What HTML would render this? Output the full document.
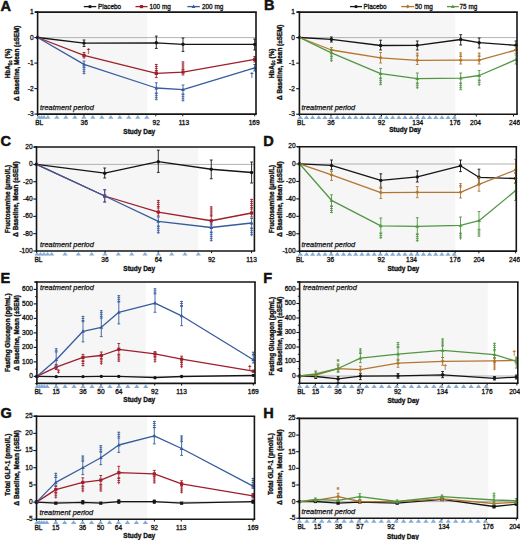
<!DOCTYPE html>
<html><head><meta charset="utf-8"><style>
html,body{margin:0;padding:0;background:#fff;}
body{width:520px;height:540px;overflow:hidden;}
svg{display:block;font-family:"Liberation Sans",sans-serif;}
</style></head><body>
<svg width="520" height="540" viewBox="0 0 520 540">
<rect width="520" height="540" fill="#fff"/>
<rect x="37.60" y="12.10" width="109.60" height="102.00" fill="#f6f6f6"/>
<line x1="37.60" y1="37.60" x2="256.00" y2="37.60" stroke="#a0a0a0" stroke-width="0.8" />
<text x="40.00" y="110.10" font-size="7.4" text-anchor="start" font-weight="normal" font-style="italic" fill="#111" stroke="#111" stroke-width="0.25" >treatment period</text>
<path d="M37.60,37.50 L84.00,43.10 L156.30,42.80 L183.00,44.30 L254.70,44.40" fill="none" stroke="#151515" stroke-width="1.3" stroke-linejoin="round"/>
<path d="M37.60,37.50 L84.00,55.40 L156.30,73.40 L183.00,72.10 L254.70,59.40" fill="none" stroke="#9e1f2b" stroke-width="1.3" stroke-linejoin="round"/>
<path d="M37.60,37.50 L84.00,64.40 L156.30,88.00 L183.00,89.70 L254.70,67.80" fill="none" stroke="#365c9e" stroke-width="1.3" stroke-linejoin="round"/>
<circle cx="37.60" cy="37.50" r="1.7" fill="#151515"/>
<line x1="84.00" y1="40.00" x2="84.00" y2="46.50" stroke="#151515" stroke-width="0.9" />
<line x1="82.60" y1="40.00" x2="85.40" y2="40.00" stroke="#151515" stroke-width="0.9" />
<line x1="82.60" y1="46.50" x2="85.40" y2="46.50" stroke="#151515" stroke-width="0.9" />
<circle cx="84.00" cy="43.10" r="1.7" fill="#151515"/>
<line x1="156.30" y1="36.10" x2="156.30" y2="48.40" stroke="#151515" stroke-width="0.9" />
<line x1="154.90" y1="36.10" x2="157.70" y2="36.10" stroke="#151515" stroke-width="0.9" />
<line x1="154.90" y1="48.40" x2="157.70" y2="48.40" stroke="#151515" stroke-width="0.9" />
<circle cx="156.30" cy="42.80" r="1.7" fill="#151515"/>
<line x1="183.00" y1="38.00" x2="183.00" y2="51.40" stroke="#151515" stroke-width="0.9" />
<line x1="181.60" y1="38.00" x2="184.40" y2="38.00" stroke="#151515" stroke-width="0.9" />
<line x1="181.60" y1="51.40" x2="184.40" y2="51.40" stroke="#151515" stroke-width="0.9" />
<circle cx="183.00" cy="44.30" r="1.7" fill="#151515"/>
<line x1="254.70" y1="39.00" x2="254.70" y2="50.00" stroke="#151515" stroke-width="0.9" />
<line x1="253.30" y1="39.00" x2="256.10" y2="39.00" stroke="#151515" stroke-width="0.9" />
<line x1="253.30" y1="50.00" x2="256.10" y2="50.00" stroke="#151515" stroke-width="0.9" />
<circle cx="254.70" cy="44.40" r="1.7" fill="#151515"/>
<rect x="36.00" y="35.90" width="3.2" height="3.2" fill="#9e1f2b"/>
<line x1="84.00" y1="52.50" x2="84.00" y2="58.00" stroke="#9e1f2b" stroke-width="0.9" />
<line x1="82.60" y1="52.50" x2="85.40" y2="52.50" stroke="#9e1f2b" stroke-width="0.9" />
<line x1="82.60" y1="58.00" x2="85.40" y2="58.00" stroke="#9e1f2b" stroke-width="0.9" />
<text x="88.50" y="53.00" font-size="6.3" text-anchor="middle" font-weight="bold" font-style="normal" fill="#9e1f2b" stroke="#9e1f2b" stroke-width="0.2" >†</text>
<rect x="82.40" y="53.80" width="3.2" height="3.2" fill="#9e1f2b"/>
<line x1="156.30" y1="71.00" x2="156.30" y2="77.60" stroke="#9e1f2b" stroke-width="0.9" />
<line x1="154.90" y1="71.00" x2="157.70" y2="71.00" stroke="#9e1f2b" stroke-width="0.9" />
<line x1="154.90" y1="77.60" x2="157.70" y2="77.60" stroke="#9e1f2b" stroke-width="0.9" />
<line x1="156.30" y1="63.80" x2="156.30" y2="71.00" stroke="#9e1f2b" stroke-width="0.9" />
<line x1="154.90" y1="64.50" x2="157.70" y2="64.50" stroke="#9e1f2b" stroke-width="0.9" />
<line x1="154.90" y1="66.50" x2="157.70" y2="66.50" stroke="#9e1f2b" stroke-width="0.9" />
<line x1="154.90" y1="68.50" x2="157.70" y2="68.50" stroke="#9e1f2b" stroke-width="0.9" />
<line x1="154.90" y1="70.50" x2="157.70" y2="70.50" stroke="#9e1f2b" stroke-width="0.9" />
<rect x="154.70" y="71.80" width="3.2" height="3.2" fill="#9e1f2b"/>
<line x1="183.00" y1="69.50" x2="183.00" y2="75.00" stroke="#9e1f2b" stroke-width="0.9" />
<line x1="181.60" y1="69.50" x2="184.40" y2="69.50" stroke="#9e1f2b" stroke-width="0.9" />
<line x1="181.60" y1="75.00" x2="184.40" y2="75.00" stroke="#9e1f2b" stroke-width="0.9" />
<line x1="183.00" y1="61.30" x2="183.00" y2="69.50" stroke="#9e1f2b" stroke-width="0.9" />
<line x1="181.60" y1="62.00" x2="184.40" y2="62.00" stroke="#9e1f2b" stroke-width="0.9" />
<line x1="181.60" y1="64.00" x2="184.40" y2="64.00" stroke="#9e1f2b" stroke-width="0.9" />
<line x1="181.60" y1="66.00" x2="184.40" y2="66.00" stroke="#9e1f2b" stroke-width="0.9" />
<line x1="181.60" y1="68.00" x2="184.40" y2="68.00" stroke="#9e1f2b" stroke-width="0.9" />
<rect x="181.40" y="70.50" width="3.2" height="3.2" fill="#9e1f2b"/>
<line x1="254.70" y1="56.50" x2="254.70" y2="62.00" stroke="#9e1f2b" stroke-width="0.9" />
<line x1="253.30" y1="56.50" x2="256.10" y2="56.50" stroke="#9e1f2b" stroke-width="0.9" />
<line x1="253.30" y1="62.00" x2="256.10" y2="62.00" stroke="#9e1f2b" stroke-width="0.9" />
<rect x="253.10" y="57.80" width="3.2" height="3.2" fill="#9e1f2b"/>
<path d="M37.60,35.50 L39.50,38.90 L35.70,38.90Z" fill="#365c9e"/>
<line x1="84.00" y1="61.00" x2="84.00" y2="67.00" stroke="#365c9e" stroke-width="0.9" />
<line x1="82.60" y1="61.00" x2="85.40" y2="61.00" stroke="#365c9e" stroke-width="0.9" />
<line x1="82.60" y1="67.00" x2="85.40" y2="67.00" stroke="#365c9e" stroke-width="0.9" />
<line x1="84.00" y1="67.00" x2="84.00" y2="74.00" stroke="#365c9e" stroke-width="0.9" />
<line x1="82.60" y1="67.70" x2="85.40" y2="67.70" stroke="#365c9e" stroke-width="0.9" />
<line x1="82.60" y1="69.70" x2="85.40" y2="69.70" stroke="#365c9e" stroke-width="0.9" />
<line x1="82.60" y1="71.70" x2="85.40" y2="71.70" stroke="#365c9e" stroke-width="0.9" />
<line x1="82.60" y1="73.70" x2="85.40" y2="73.70" stroke="#365c9e" stroke-width="0.9" />
<path d="M84.00,62.40 L85.90,65.80 L82.10,65.80Z" fill="#365c9e"/>
<line x1="156.30" y1="82.80" x2="156.30" y2="93.00" stroke="#365c9e" stroke-width="0.9" />
<line x1="154.90" y1="82.80" x2="157.70" y2="82.80" stroke="#365c9e" stroke-width="0.9" />
<line x1="154.90" y1="93.00" x2="157.70" y2="93.00" stroke="#365c9e" stroke-width="0.9" />
<line x1="156.30" y1="93.00" x2="156.30" y2="99.80" stroke="#365c9e" stroke-width="0.9" />
<line x1="154.90" y1="93.70" x2="157.70" y2="93.70" stroke="#365c9e" stroke-width="0.9" />
<line x1="154.90" y1="95.70" x2="157.70" y2="95.70" stroke="#365c9e" stroke-width="0.9" />
<line x1="154.90" y1="97.70" x2="157.70" y2="97.70" stroke="#365c9e" stroke-width="0.9" />
<line x1="154.90" y1="99.70" x2="157.70" y2="99.70" stroke="#365c9e" stroke-width="0.9" />
<path d="M156.30,86.00 L158.20,89.40 L154.40,89.40Z" fill="#365c9e"/>
<line x1="183.00" y1="85.00" x2="183.00" y2="94.00" stroke="#365c9e" stroke-width="0.9" />
<line x1="181.60" y1="85.00" x2="184.40" y2="85.00" stroke="#365c9e" stroke-width="0.9" />
<line x1="181.60" y1="94.00" x2="184.40" y2="94.00" stroke="#365c9e" stroke-width="0.9" />
<line x1="183.00" y1="94.00" x2="183.00" y2="101.30" stroke="#365c9e" stroke-width="0.9" />
<line x1="181.60" y1="94.70" x2="184.40" y2="94.70" stroke="#365c9e" stroke-width="0.9" />
<line x1="181.60" y1="96.70" x2="184.40" y2="96.70" stroke="#365c9e" stroke-width="0.9" />
<line x1="181.60" y1="98.70" x2="184.40" y2="98.70" stroke="#365c9e" stroke-width="0.9" />
<line x1="181.60" y1="100.70" x2="184.40" y2="100.70" stroke="#365c9e" stroke-width="0.9" />
<path d="M183.00,87.70 L184.90,91.10 L181.10,91.10Z" fill="#365c9e"/>
<line x1="254.70" y1="64.50" x2="254.70" y2="71.00" stroke="#365c9e" stroke-width="0.9" />
<line x1="253.30" y1="64.50" x2="256.10" y2="64.50" stroke="#365c9e" stroke-width="0.9" />
<line x1="253.30" y1="71.00" x2="256.10" y2="71.00" stroke="#365c9e" stroke-width="0.9" />
<text x="251.70" y="77.00" font-size="6.3" text-anchor="middle" font-weight="bold" font-style="normal" fill="#365c9e" stroke="#365c9e" stroke-width="0.2" >†</text>
<path d="M254.70,65.80 L256.60,69.20 L252.80,69.20Z" fill="#365c9e"/>
<line x1="35.00" y1="12.10" x2="256.80" y2="12.10" stroke="#151515" stroke-width="1.6" />
<line x1="256.00" y1="12.10" x2="256.00" y2="114.10" stroke="#151515" stroke-width="1.6" />
<line x1="37.60" y1="11.30" x2="37.60" y2="114.90" stroke="#151515" stroke-width="1.6" />
<line x1="36.80" y1="114.10" x2="256.80" y2="114.10" stroke="#151515" stroke-width="1.6" />
<line x1="34.40" y1="12.10" x2="37.60" y2="12.10" stroke="#151515" stroke-width="1.1" />
<text x="33.70" y="14.00" font-size="6.6" text-anchor="end" font-weight="normal" font-style="normal" fill="#111" stroke="#111" stroke-width="0.3" >1</text>
<line x1="34.40" y1="37.60" x2="37.60" y2="37.60" stroke="#151515" stroke-width="1.1" />
<text x="33.70" y="39.50" font-size="6.6" text-anchor="end" font-weight="normal" font-style="normal" fill="#111" stroke="#111" stroke-width="0.3" >0</text>
<line x1="34.40" y1="63.10" x2="37.60" y2="63.10" stroke="#151515" stroke-width="1.1" />
<text x="33.70" y="65.00" font-size="6.6" text-anchor="end" font-weight="normal" font-style="normal" fill="#111" stroke="#111" stroke-width="0.3" >-1</text>
<line x1="34.40" y1="88.60" x2="37.60" y2="88.60" stroke="#151515" stroke-width="1.1" />
<text x="33.70" y="90.50" font-size="6.6" text-anchor="end" font-weight="normal" font-style="normal" fill="#111" stroke="#111" stroke-width="0.3" >-2</text>
<line x1="34.40" y1="114.10" x2="37.60" y2="114.10" stroke="#151515" stroke-width="1.1" />
<text x="33.70" y="116.00" font-size="6.6" text-anchor="end" font-weight="normal" font-style="normal" fill="#111" stroke="#111" stroke-width="0.3" >-3</text>
<line x1="37.60" y1="114.10" x2="37.60" y2="116.30" stroke="#151515" stroke-width="1.0" />
<text x="39.20" y="125.00" font-size="6.6" text-anchor="middle" font-weight="normal" font-style="normal" fill="#111" stroke="#111" stroke-width="0.3" >BL</text>
<line x1="83.85" y1="114.10" x2="83.85" y2="116.30" stroke="#151515" stroke-width="1.0" />
<text x="84.20" y="125.00" font-size="6.6" text-anchor="middle" font-weight="normal" font-style="normal" fill="#111" stroke="#111" stroke-width="0.3" >36</text>
<line x1="155.78" y1="114.10" x2="155.78" y2="116.30" stroke="#151515" stroke-width="1.0" />
<text x="156.20" y="125.00" font-size="6.6" text-anchor="middle" font-weight="normal" font-style="normal" fill="#111" stroke="#111" stroke-width="0.3" >92</text>
<line x1="182.76" y1="114.10" x2="182.76" y2="116.30" stroke="#151515" stroke-width="1.0" />
<text x="183.90" y="125.00" font-size="6.6" text-anchor="middle" font-weight="normal" font-style="normal" fill="#111" stroke="#111" stroke-width="0.3" >113</text>
<line x1="254.70" y1="114.10" x2="254.70" y2="116.30" stroke="#151515" stroke-width="1.0" />
<text x="254.20" y="125.00" font-size="6.6" text-anchor="middle" font-weight="normal" font-style="normal" fill="#111" stroke="#111" stroke-width="0.3" >169</text>
<path d="M38.88,115.00 L41.58,118.70 L36.18,118.70Z" fill="#86acd6"/>
<path d="M41.45,115.00 L44.15,118.70 L38.75,118.70Z" fill="#86acd6"/>
<path d="M44.02,115.00 L46.72,118.70 L41.32,118.70Z" fill="#86acd6"/>
<path d="M47.88,115.00 L50.58,118.70 L45.18,118.70Z" fill="#86acd6"/>
<path d="M56.87,115.00 L59.57,118.70 L54.17,118.70Z" fill="#86acd6"/>
<path d="M65.86,115.00 L68.56,118.70 L63.16,118.70Z" fill="#86acd6"/>
<path d="M74.85,115.00 L77.55,118.70 L72.15,118.70Z" fill="#86acd6"/>
<path d="M83.85,115.00 L86.55,118.70 L81.15,118.70Z" fill="#86acd6"/>
<path d="M92.84,115.00 L95.54,118.70 L90.14,118.70Z" fill="#86acd6"/>
<path d="M101.83,115.00 L104.53,118.70 L99.13,118.70Z" fill="#86acd6"/>
<path d="M110.82,115.00 L113.52,118.70 L108.12,118.70Z" fill="#86acd6"/>
<path d="M119.81,115.00 L122.51,118.70 L117.11,118.70Z" fill="#86acd6"/>
<path d="M128.81,115.00 L131.51,118.70 L126.11,118.70Z" fill="#86acd6"/>
<path d="M137.80,115.00 L140.50,118.70 L135.10,118.70Z" fill="#86acd6"/>
<path d="M146.79,115.00 L149.49,118.70 L144.09,118.70Z" fill="#86acd6"/>
<text x="139.25" y="133.80" font-size="6.5" text-anchor="middle" font-weight="bold" font-style="normal" fill="#111" stroke="#111" stroke-width="0.3" >Study Day</text>
<text transform="translate(10.10,63.40) rotate(-90)" font-size="6.35" font-weight="bold" text-anchor="middle" fill="#111" stroke="#111" stroke-width="0.35" stroke-linejoin="round">HbA<tspan font-size="4.5" dy="1.5">1c</tspan><tspan dy="-1.5"> (%)</tspan></text>
<text transform="translate(18.90,63.20) rotate(-90)" font-size="6.35" font-weight="bold" text-anchor="middle" fill="#111" stroke="#111" stroke-width="0.35" stroke-linejoin="round">Δ Baseline, Mean (±SEM)</text>
<text transform="translate(0.50,10.70) scale(0.94,1)" font-size="15.5" font-weight="bold" fill="#111" stroke="#111" stroke-width="0.5">A</text>
<rect x="299.40" y="12.10" width="155.90" height="102.20" fill="#f6f6f6"/>
<line x1="299.40" y1="37.60" x2="517.00" y2="37.60" stroke="#a0a0a0" stroke-width="0.8" />
<text x="301.40" y="110.40" font-size="7.4" text-anchor="start" font-weight="normal" font-style="italic" fill="#111" stroke="#111" stroke-width="0.25" >treatment period</text>
<path d="M299.40,37.50 L331.40,39.40 L380.60,45.50 L417.30,45.30 L460.70,39.50 L479.20,42.70 L516.00,45.30" fill="none" stroke="#151515" stroke-width="1.3" stroke-linejoin="round"/>
<path d="M299.40,37.50 L331.40,50.00 L380.60,57.80 L417.30,60.30 L460.70,60.20 L479.20,60.20 L516.00,50.00" fill="none" stroke="#b37630" stroke-width="1.3" stroke-linejoin="round"/>
<path d="M299.40,37.50 L331.40,52.90 L380.60,73.60 L417.30,78.60 L460.70,78.10 L479.20,75.50 L516.00,59.60" fill="none" stroke="#519743" stroke-width="1.3" stroke-linejoin="round"/>
<circle cx="299.40" cy="37.50" r="1.7" fill="#151515"/>
<line x1="331.40" y1="37.00" x2="331.40" y2="42.00" stroke="#151515" stroke-width="0.9" />
<line x1="330.00" y1="37.00" x2="332.80" y2="37.00" stroke="#151515" stroke-width="0.9" />
<line x1="330.00" y1="42.00" x2="332.80" y2="42.00" stroke="#151515" stroke-width="0.9" />
<circle cx="331.40" cy="39.40" r="1.7" fill="#151515"/>
<line x1="380.60" y1="40.20" x2="380.60" y2="50.00" stroke="#151515" stroke-width="0.9" />
<line x1="379.20" y1="40.20" x2="382.00" y2="40.20" stroke="#151515" stroke-width="0.9" />
<line x1="379.20" y1="50.00" x2="382.00" y2="50.00" stroke="#151515" stroke-width="0.9" />
<circle cx="380.60" cy="45.50" r="1.7" fill="#151515"/>
<line x1="417.30" y1="41.00" x2="417.30" y2="50.00" stroke="#151515" stroke-width="0.9" />
<line x1="415.90" y1="41.00" x2="418.70" y2="41.00" stroke="#151515" stroke-width="0.9" />
<line x1="415.90" y1="50.00" x2="418.70" y2="50.00" stroke="#151515" stroke-width="0.9" />
<circle cx="417.30" cy="45.30" r="1.7" fill="#151515"/>
<line x1="460.70" y1="34.70" x2="460.70" y2="45.00" stroke="#151515" stroke-width="0.9" />
<line x1="459.30" y1="34.70" x2="462.10" y2="34.70" stroke="#151515" stroke-width="0.9" />
<line x1="459.30" y1="45.00" x2="462.10" y2="45.00" stroke="#151515" stroke-width="0.9" />
<circle cx="460.70" cy="39.50" r="1.7" fill="#151515"/>
<line x1="479.20" y1="38.00" x2="479.20" y2="48.00" stroke="#151515" stroke-width="0.9" />
<line x1="477.80" y1="38.00" x2="480.60" y2="38.00" stroke="#151515" stroke-width="0.9" />
<line x1="477.80" y1="48.00" x2="480.60" y2="48.00" stroke="#151515" stroke-width="0.9" />
<circle cx="479.20" cy="42.70" r="1.7" fill="#151515"/>
<line x1="516.00" y1="41.00" x2="516.00" y2="49.50" stroke="#151515" stroke-width="0.9" />
<line x1="514.60" y1="41.00" x2="517.40" y2="41.00" stroke="#151515" stroke-width="0.9" />
<line x1="514.60" y1="49.50" x2="517.40" y2="49.50" stroke="#151515" stroke-width="0.9" />
<circle cx="516.00" cy="45.30" r="1.7" fill="#151515"/>
<path d="M299.40,35.50 L301.40,37.50 L299.40,39.50 L297.40,37.50Z" fill="#b37630"/>
<line x1="331.40" y1="47.50" x2="331.40" y2="52.50" stroke="#b37630" stroke-width="0.9" />
<line x1="330.00" y1="47.50" x2="332.80" y2="47.50" stroke="#b37630" stroke-width="0.9" />
<line x1="330.00" y1="52.50" x2="332.80" y2="52.50" stroke="#b37630" stroke-width="0.9" />
<path d="M331.40,48.00 L333.40,50.00 L331.40,52.00 L329.40,50.00Z" fill="#b37630"/>
<line x1="380.60" y1="52.50" x2="380.60" y2="63.00" stroke="#b37630" stroke-width="0.9" />
<line x1="379.20" y1="52.50" x2="382.00" y2="52.50" stroke="#b37630" stroke-width="0.9" />
<line x1="379.20" y1="63.00" x2="382.00" y2="63.00" stroke="#b37630" stroke-width="0.9" />
<path d="M380.60,55.80 L382.60,57.80 L380.60,59.80 L378.60,57.80Z" fill="#b37630"/>
<line x1="417.30" y1="56.00" x2="417.30" y2="64.50" stroke="#b37630" stroke-width="0.9" />
<line x1="415.90" y1="56.00" x2="418.70" y2="56.00" stroke="#b37630" stroke-width="0.9" />
<line x1="415.90" y1="64.50" x2="418.70" y2="64.50" stroke="#b37630" stroke-width="0.9" />
<line x1="417.30" y1="52.50" x2="417.30" y2="56.00" stroke="#b37630" stroke-width="0.9" />
<line x1="415.90" y1="53.20" x2="418.70" y2="53.20" stroke="#b37630" stroke-width="0.9" />
<line x1="415.90" y1="55.20" x2="418.70" y2="55.20" stroke="#b37630" stroke-width="0.9" />
<path d="M417.30,58.30 L419.30,60.30 L417.30,62.30 L415.30,60.30Z" fill="#b37630"/>
<line x1="460.70" y1="56.50" x2="460.70" y2="64.00" stroke="#b37630" stroke-width="0.9" />
<line x1="459.30" y1="56.50" x2="462.10" y2="56.50" stroke="#b37630" stroke-width="0.9" />
<line x1="459.30" y1="64.00" x2="462.10" y2="64.00" stroke="#b37630" stroke-width="0.9" />
<line x1="460.70" y1="52.20" x2="460.70" y2="56.50" stroke="#b37630" stroke-width="0.9" />
<line x1="459.30" y1="52.90" x2="462.10" y2="52.90" stroke="#b37630" stroke-width="0.9" />
<line x1="459.30" y1="54.90" x2="462.10" y2="54.90" stroke="#b37630" stroke-width="0.9" />
<path d="M460.70,58.20 L462.70,60.20 L460.70,62.20 L458.70,60.20Z" fill="#b37630"/>
<line x1="479.20" y1="56.50" x2="479.20" y2="64.00" stroke="#b37630" stroke-width="0.9" />
<line x1="477.80" y1="56.50" x2="480.60" y2="56.50" stroke="#b37630" stroke-width="0.9" />
<line x1="477.80" y1="64.00" x2="480.60" y2="64.00" stroke="#b37630" stroke-width="0.9" />
<line x1="479.20" y1="52.50" x2="479.20" y2="56.50" stroke="#b37630" stroke-width="0.9" />
<line x1="477.80" y1="53.20" x2="480.60" y2="53.20" stroke="#b37630" stroke-width="0.9" />
<line x1="477.80" y1="55.20" x2="480.60" y2="55.20" stroke="#b37630" stroke-width="0.9" />
<path d="M479.20,58.20 L481.20,60.20 L479.20,62.20 L477.20,60.20Z" fill="#b37630"/>
<line x1="516.00" y1="46.50" x2="516.00" y2="53.50" stroke="#b37630" stroke-width="0.9" />
<line x1="514.60" y1="46.50" x2="517.40" y2="46.50" stroke="#b37630" stroke-width="0.9" />
<line x1="514.60" y1="53.50" x2="517.40" y2="53.50" stroke="#b37630" stroke-width="0.9" />
<path d="M516.00,48.00 L518.00,50.00 L516.00,52.00 L514.00,50.00Z" fill="#b37630"/>
<path d="M299.40,35.50 L301.30,38.90 L297.50,38.90Z" fill="#519743"/>
<line x1="331.40" y1="50.00" x2="331.40" y2="56.00" stroke="#519743" stroke-width="0.9" />
<line x1="330.00" y1="50.00" x2="332.80" y2="50.00" stroke="#519743" stroke-width="0.9" />
<line x1="330.00" y1="56.00" x2="332.80" y2="56.00" stroke="#519743" stroke-width="0.9" />
<line x1="331.40" y1="56.00" x2="331.40" y2="62.00" stroke="#519743" stroke-width="0.9" />
<line x1="330.00" y1="56.70" x2="332.80" y2="56.70" stroke="#519743" stroke-width="0.9" />
<line x1="330.00" y1="58.70" x2="332.80" y2="58.70" stroke="#519743" stroke-width="0.9" />
<line x1="330.00" y1="60.70" x2="332.80" y2="60.70" stroke="#519743" stroke-width="0.9" />
<path d="M331.40,50.90 L333.30,54.30 L329.50,54.30Z" fill="#519743"/>
<line x1="380.60" y1="68.50" x2="380.60" y2="78.00" stroke="#519743" stroke-width="0.9" />
<line x1="379.20" y1="68.50" x2="382.00" y2="68.50" stroke="#519743" stroke-width="0.9" />
<line x1="379.20" y1="78.00" x2="382.00" y2="78.00" stroke="#519743" stroke-width="0.9" />
<line x1="380.60" y1="78.00" x2="380.60" y2="85.00" stroke="#519743" stroke-width="0.9" />
<line x1="379.20" y1="78.70" x2="382.00" y2="78.70" stroke="#519743" stroke-width="0.9" />
<line x1="379.20" y1="80.70" x2="382.00" y2="80.70" stroke="#519743" stroke-width="0.9" />
<line x1="379.20" y1="82.70" x2="382.00" y2="82.70" stroke="#519743" stroke-width="0.9" />
<line x1="379.20" y1="84.70" x2="382.00" y2="84.70" stroke="#519743" stroke-width="0.9" />
<path d="M380.60,71.60 L382.50,75.00 L378.70,75.00Z" fill="#519743"/>
<line x1="417.30" y1="73.00" x2="417.30" y2="83.00" stroke="#519743" stroke-width="0.9" />
<line x1="415.90" y1="73.00" x2="418.70" y2="73.00" stroke="#519743" stroke-width="0.9" />
<line x1="415.90" y1="83.00" x2="418.70" y2="83.00" stroke="#519743" stroke-width="0.9" />
<line x1="417.30" y1="83.00" x2="417.30" y2="89.00" stroke="#519743" stroke-width="0.9" />
<line x1="415.90" y1="83.70" x2="418.70" y2="83.70" stroke="#519743" stroke-width="0.9" />
<line x1="415.90" y1="85.70" x2="418.70" y2="85.70" stroke="#519743" stroke-width="0.9" />
<line x1="415.90" y1="87.70" x2="418.70" y2="87.70" stroke="#519743" stroke-width="0.9" />
<path d="M417.30,76.60 L419.20,80.00 L415.40,80.00Z" fill="#519743"/>
<line x1="460.70" y1="73.00" x2="460.70" y2="83.00" stroke="#519743" stroke-width="0.9" />
<line x1="459.30" y1="73.00" x2="462.10" y2="73.00" stroke="#519743" stroke-width="0.9" />
<line x1="459.30" y1="83.00" x2="462.10" y2="83.00" stroke="#519743" stroke-width="0.9" />
<line x1="460.70" y1="83.00" x2="460.70" y2="89.80" stroke="#519743" stroke-width="0.9" />
<line x1="459.30" y1="83.70" x2="462.10" y2="83.70" stroke="#519743" stroke-width="0.9" />
<line x1="459.30" y1="85.70" x2="462.10" y2="85.70" stroke="#519743" stroke-width="0.9" />
<line x1="459.30" y1="87.70" x2="462.10" y2="87.70" stroke="#519743" stroke-width="0.9" />
<line x1="459.30" y1="89.70" x2="462.10" y2="89.70" stroke="#519743" stroke-width="0.9" />
<path d="M460.70,76.10 L462.60,79.50 L458.80,79.50Z" fill="#519743"/>
<line x1="479.20" y1="70.50" x2="479.20" y2="80.00" stroke="#519743" stroke-width="0.9" />
<line x1="477.80" y1="70.50" x2="480.60" y2="70.50" stroke="#519743" stroke-width="0.9" />
<line x1="477.80" y1="80.00" x2="480.60" y2="80.00" stroke="#519743" stroke-width="0.9" />
<line x1="479.20" y1="80.00" x2="479.20" y2="86.00" stroke="#519743" stroke-width="0.9" />
<line x1="477.80" y1="80.70" x2="480.60" y2="80.70" stroke="#519743" stroke-width="0.9" />
<line x1="477.80" y1="82.70" x2="480.60" y2="82.70" stroke="#519743" stroke-width="0.9" />
<line x1="477.80" y1="84.70" x2="480.60" y2="84.70" stroke="#519743" stroke-width="0.9" />
<path d="M479.20,73.50 L481.10,76.90 L477.30,76.90Z" fill="#519743"/>
<line x1="516.00" y1="55.00" x2="516.00" y2="64.00" stroke="#519743" stroke-width="0.9" />
<line x1="514.60" y1="55.00" x2="517.40" y2="55.00" stroke="#519743" stroke-width="0.9" />
<line x1="514.60" y1="64.00" x2="517.40" y2="64.00" stroke="#519743" stroke-width="0.9" />
<path d="M516.00,57.60 L517.90,61.00 L514.10,61.00Z" fill="#519743"/>
<line x1="296.80" y1="12.10" x2="517.80" y2="12.10" stroke="#151515" stroke-width="1.6" />
<line x1="517.00" y1="12.10" x2="517.00" y2="114.30" stroke="#151515" stroke-width="1.6" />
<line x1="299.40" y1="11.30" x2="299.40" y2="115.10" stroke="#151515" stroke-width="1.6" />
<line x1="298.60" y1="114.30" x2="517.80" y2="114.30" stroke="#151515" stroke-width="1.6" />
<line x1="296.20" y1="12.05" x2="299.40" y2="12.05" stroke="#151515" stroke-width="1.1" />
<text x="294.90" y="13.95" font-size="6.6" text-anchor="end" font-weight="normal" font-style="normal" fill="#111" stroke="#111" stroke-width="0.3" >1</text>
<line x1="296.20" y1="37.60" x2="299.40" y2="37.60" stroke="#151515" stroke-width="1.1" />
<text x="294.90" y="39.50" font-size="6.6" text-anchor="end" font-weight="normal" font-style="normal" fill="#111" stroke="#111" stroke-width="0.3" >0</text>
<line x1="296.20" y1="63.15" x2="299.40" y2="63.15" stroke="#151515" stroke-width="1.1" />
<text x="294.90" y="65.05" font-size="6.6" text-anchor="end" font-weight="normal" font-style="normal" fill="#111" stroke="#111" stroke-width="0.3" >-1</text>
<line x1="296.20" y1="88.70" x2="299.40" y2="88.70" stroke="#151515" stroke-width="1.1" />
<text x="294.90" y="90.60" font-size="6.6" text-anchor="end" font-weight="normal" font-style="normal" fill="#111" stroke="#111" stroke-width="0.3" >-2</text>
<line x1="296.20" y1="114.25" x2="299.40" y2="114.25" stroke="#151515" stroke-width="1.1" />
<text x="294.90" y="116.15" font-size="6.6" text-anchor="end" font-weight="normal" font-style="normal" fill="#111" stroke="#111" stroke-width="0.3" >-3</text>
<line x1="299.40" y1="114.30" x2="299.40" y2="116.50" stroke="#151515" stroke-width="1.0" />
<text x="301.10" y="125.20" font-size="6.6" text-anchor="middle" font-weight="normal" font-style="normal" fill="#111" stroke="#111" stroke-width="0.3" >BL</text>
<line x1="331.00" y1="114.30" x2="331.00" y2="116.50" stroke="#151515" stroke-width="1.0" />
<text x="331.00" y="125.20" font-size="6.6" text-anchor="middle" font-weight="normal" font-style="normal" fill="#111" stroke="#111" stroke-width="0.3" >36</text>
<line x1="381.50" y1="114.30" x2="381.50" y2="116.50" stroke="#151515" stroke-width="1.0" />
<text x="381.50" y="125.20" font-size="6.6" text-anchor="middle" font-weight="normal" font-style="normal" fill="#111" stroke="#111" stroke-width="0.3" >92</text>
<line x1="417.80" y1="114.30" x2="417.80" y2="116.50" stroke="#151515" stroke-width="1.0" />
<text x="417.80" y="125.20" font-size="6.6" text-anchor="middle" font-weight="normal" font-style="normal" fill="#111" stroke="#111" stroke-width="0.3" >134</text>
<line x1="455.00" y1="114.30" x2="455.00" y2="116.50" stroke="#151515" stroke-width="1.0" />
<text x="455.00" y="125.20" font-size="6.6" text-anchor="middle" font-weight="normal" font-style="normal" fill="#111" stroke="#111" stroke-width="0.3" >176</text>
<line x1="476.30" y1="114.30" x2="476.30" y2="116.50" stroke="#151515" stroke-width="1.0" />
<text x="475.50" y="125.20" font-size="6.6" text-anchor="middle" font-weight="normal" font-style="normal" fill="#111" stroke="#111" stroke-width="0.3" >204</text>
<line x1="513.50" y1="114.30" x2="513.50" y2="116.50" stroke="#151515" stroke-width="1.0" />
<text x="514.60" y="125.20" font-size="6.6" text-anchor="middle" font-weight="normal" font-style="normal" fill="#111" stroke="#111" stroke-width="0.3" >246</text>
<path d="M300.28,115.20 L302.98,118.90 L297.58,118.90Z" fill="#86acd6"/>
<path d="M306.44,115.20 L309.14,118.90 L303.74,118.90Z" fill="#86acd6"/>
<path d="M312.60,115.20 L315.30,118.90 L309.90,118.90Z" fill="#86acd6"/>
<path d="M318.76,115.20 L321.46,118.90 L316.06,118.90Z" fill="#86acd6"/>
<path d="M324.92,115.20 L327.62,118.90 L322.22,118.90Z" fill="#86acd6"/>
<path d="M331.08,115.20 L333.78,118.90 L328.38,118.90Z" fill="#86acd6"/>
<path d="M337.24,115.20 L339.94,118.90 L334.54,118.90Z" fill="#86acd6"/>
<path d="M343.40,115.20 L346.10,118.90 L340.70,118.90Z" fill="#86acd6"/>
<path d="M349.56,115.20 L352.26,118.90 L346.86,118.90Z" fill="#86acd6"/>
<path d="M355.72,115.20 L358.42,118.90 L353.02,118.90Z" fill="#86acd6"/>
<path d="M361.88,115.20 L364.58,118.90 L359.18,118.90Z" fill="#86acd6"/>
<path d="M368.04,115.20 L370.74,118.90 L365.34,118.90Z" fill="#86acd6"/>
<path d="M374.20,115.20 L376.90,118.90 L371.50,118.90Z" fill="#86acd6"/>
<path d="M380.36,115.20 L383.06,118.90 L377.66,118.90Z" fill="#86acd6"/>
<path d="M386.52,115.20 L389.22,118.90 L383.82,118.90Z" fill="#86acd6"/>
<path d="M392.68,115.20 L395.38,118.90 L389.98,118.90Z" fill="#86acd6"/>
<path d="M398.84,115.20 L401.54,118.90 L396.14,118.90Z" fill="#86acd6"/>
<path d="M405.00,115.20 L407.70,118.90 L402.30,118.90Z" fill="#86acd6"/>
<path d="M411.16,115.20 L413.86,118.90 L408.46,118.90Z" fill="#86acd6"/>
<path d="M417.32,115.20 L420.02,118.90 L414.62,118.90Z" fill="#86acd6"/>
<path d="M423.48,115.20 L426.18,118.90 L420.78,118.90Z" fill="#86acd6"/>
<path d="M429.64,115.20 L432.34,118.90 L426.94,118.90Z" fill="#86acd6"/>
<path d="M435.80,115.20 L438.50,118.90 L433.10,118.90Z" fill="#86acd6"/>
<path d="M441.96,115.20 L444.66,118.90 L439.26,118.90Z" fill="#86acd6"/>
<path d="M448.12,115.20 L450.82,118.90 L445.42,118.90Z" fill="#86acd6"/>
<path d="M454.28,115.20 L456.98,118.90 L451.58,118.90Z" fill="#86acd6"/>
<text x="405.10" y="132.40" font-size="6.5" text-anchor="middle" font-weight="bold" font-style="normal" fill="#111" stroke="#111" stroke-width="0.3" >Study Day</text>
<text transform="translate(273.60,63.40) rotate(-90)" font-size="6.35" font-weight="bold" text-anchor="middle" fill="#111" stroke="#111" stroke-width="0.35" stroke-linejoin="round">HbA<tspan font-size="4.5" dy="1.5">1c</tspan><tspan dy="-1.5"> (%)</tspan></text>
<text transform="translate(282.30,62.20) rotate(-90)" font-size="6.35" font-weight="bold" text-anchor="middle" fill="#111" stroke="#111" stroke-width="0.35" stroke-linejoin="round">Δ Baseline, Mean (±SEM)</text>
<text transform="translate(263.90,10.20) scale(0.94,1)" font-size="15.5" font-weight="bold" fill="#111" stroke="#111" stroke-width="0.5">B</text>
<rect x="36.50" y="147.00" width="161.80" height="104.00" fill="#f6f6f6"/>
<line x1="36.50" y1="164.40" x2="254.40" y2="164.40" stroke="#a0a0a0" stroke-width="0.8" />
<text x="40.00" y="246.80" font-size="7.4" text-anchor="start" font-weight="normal" font-style="italic" fill="#111" stroke="#111" stroke-width="0.25" >treatment period</text>
<path d="M36.50,164.40 L104.70,173.20 L158.30,161.70 L211.25,169.25 L251.60,172.50" fill="none" stroke="#151515" stroke-width="1.3" stroke-linejoin="round"/>
<path d="M36.50,164.40 L104.70,196.00 L158.30,212.10 L211.25,220.75 L251.60,213.00" fill="none" stroke="#9e1f2b" stroke-width="1.3" stroke-linejoin="round"/>
<path d="M36.50,164.40 L104.70,196.00 L158.30,221.40 L211.25,227.50 L251.60,223.00" fill="none" stroke="#365c9e" stroke-width="1.3" stroke-linejoin="round"/>
<circle cx="36.50" cy="164.40" r="1.7" fill="#151515"/>
<line x1="104.70" y1="168.00" x2="104.70" y2="178.00" stroke="#151515" stroke-width="0.9" />
<line x1="103.30" y1="168.00" x2="106.10" y2="168.00" stroke="#151515" stroke-width="0.9" />
<line x1="103.30" y1="178.00" x2="106.10" y2="178.00" stroke="#151515" stroke-width="0.9" />
<circle cx="104.70" cy="173.20" r="1.7" fill="#151515"/>
<line x1="158.30" y1="150.20" x2="158.30" y2="172.40" stroke="#151515" stroke-width="0.9" />
<line x1="156.90" y1="150.20" x2="159.70" y2="150.20" stroke="#151515" stroke-width="0.9" />
<line x1="156.90" y1="172.40" x2="159.70" y2="172.40" stroke="#151515" stroke-width="0.9" />
<circle cx="158.30" cy="161.70" r="1.7" fill="#151515"/>
<line x1="211.25" y1="160.00" x2="211.25" y2="178.75" stroke="#151515" stroke-width="0.9" />
<line x1="209.85" y1="160.00" x2="212.65" y2="160.00" stroke="#151515" stroke-width="0.9" />
<line x1="209.85" y1="178.75" x2="212.65" y2="178.75" stroke="#151515" stroke-width="0.9" />
<circle cx="211.25" cy="169.25" r="1.7" fill="#151515"/>
<line x1="251.60" y1="162.00" x2="251.60" y2="183.00" stroke="#151515" stroke-width="0.9" />
<line x1="250.20" y1="162.00" x2="253.00" y2="162.00" stroke="#151515" stroke-width="0.9" />
<line x1="250.20" y1="183.00" x2="253.00" y2="183.00" stroke="#151515" stroke-width="0.9" />
<circle cx="251.60" cy="172.50" r="1.7" fill="#151515"/>
<rect x="34.90" y="162.80" width="3.2" height="3.2" fill="#9e1f2b"/>
<line x1="104.70" y1="189.70" x2="104.70" y2="202.00" stroke="#9e1f2b" stroke-width="0.9" />
<line x1="103.30" y1="189.70" x2="106.10" y2="189.70" stroke="#9e1f2b" stroke-width="0.9" />
<line x1="103.30" y1="202.00" x2="106.10" y2="202.00" stroke="#9e1f2b" stroke-width="0.9" />
<rect x="103.10" y="194.40" width="3.2" height="3.2" fill="#9e1f2b"/>
<line x1="158.30" y1="208.00" x2="158.30" y2="216.00" stroke="#9e1f2b" stroke-width="0.9" />
<line x1="156.90" y1="208.00" x2="159.70" y2="208.00" stroke="#9e1f2b" stroke-width="0.9" />
<line x1="156.90" y1="216.00" x2="159.70" y2="216.00" stroke="#9e1f2b" stroke-width="0.9" />
<line x1="158.30" y1="199.80" x2="158.30" y2="208.00" stroke="#9e1f2b" stroke-width="0.9" />
<line x1="156.90" y1="200.50" x2="159.70" y2="200.50" stroke="#9e1f2b" stroke-width="0.9" />
<line x1="156.90" y1="202.50" x2="159.70" y2="202.50" stroke="#9e1f2b" stroke-width="0.9" />
<line x1="156.90" y1="204.50" x2="159.70" y2="204.50" stroke="#9e1f2b" stroke-width="0.9" />
<line x1="156.90" y1="206.50" x2="159.70" y2="206.50" stroke="#9e1f2b" stroke-width="0.9" />
<rect x="156.70" y="210.50" width="3.2" height="3.2" fill="#9e1f2b"/>
<line x1="211.25" y1="216.00" x2="211.25" y2="225.00" stroke="#9e1f2b" stroke-width="0.9" />
<line x1="209.85" y1="216.00" x2="212.65" y2="216.00" stroke="#9e1f2b" stroke-width="0.9" />
<line x1="209.85" y1="225.00" x2="212.65" y2="225.00" stroke="#9e1f2b" stroke-width="0.9" />
<line x1="211.25" y1="206.25" x2="211.25" y2="216.00" stroke="#9e1f2b" stroke-width="0.9" />
<line x1="209.85" y1="206.95" x2="212.65" y2="206.95" stroke="#9e1f2b" stroke-width="0.9" />
<line x1="209.85" y1="208.95" x2="212.65" y2="208.95" stroke="#9e1f2b" stroke-width="0.9" />
<line x1="209.85" y1="210.95" x2="212.65" y2="210.95" stroke="#9e1f2b" stroke-width="0.9" />
<line x1="209.85" y1="212.95" x2="212.65" y2="212.95" stroke="#9e1f2b" stroke-width="0.9" />
<line x1="209.85" y1="214.95" x2="212.65" y2="214.95" stroke="#9e1f2b" stroke-width="0.9" />
<rect x="209.65" y="219.15" width="3.2" height="3.2" fill="#9e1f2b"/>
<line x1="251.60" y1="209.00" x2="251.60" y2="217.00" stroke="#9e1f2b" stroke-width="0.9" />
<line x1="250.20" y1="209.00" x2="253.00" y2="209.00" stroke="#9e1f2b" stroke-width="0.9" />
<line x1="250.20" y1="217.00" x2="253.00" y2="217.00" stroke="#9e1f2b" stroke-width="0.9" />
<line x1="251.60" y1="198.75" x2="251.60" y2="209.00" stroke="#9e1f2b" stroke-width="0.9" />
<line x1="250.20" y1="199.45" x2="253.00" y2="199.45" stroke="#9e1f2b" stroke-width="0.9" />
<line x1="250.20" y1="201.45" x2="253.00" y2="201.45" stroke="#9e1f2b" stroke-width="0.9" />
<line x1="250.20" y1="203.45" x2="253.00" y2="203.45" stroke="#9e1f2b" stroke-width="0.9" />
<line x1="250.20" y1="205.45" x2="253.00" y2="205.45" stroke="#9e1f2b" stroke-width="0.9" />
<line x1="250.20" y1="207.45" x2="253.00" y2="207.45" stroke="#9e1f2b" stroke-width="0.9" />
<rect x="250.00" y="211.40" width="3.2" height="3.2" fill="#9e1f2b"/>
<path d="M36.50,162.40 L38.40,165.80 L34.60,165.80Z" fill="#365c9e"/>
<line x1="104.70" y1="189.70" x2="104.70" y2="202.00" stroke="#365c9e" stroke-width="0.9" />
<line x1="103.30" y1="189.70" x2="106.10" y2="189.70" stroke="#365c9e" stroke-width="0.9" />
<line x1="103.30" y1="202.00" x2="106.10" y2="202.00" stroke="#365c9e" stroke-width="0.9" />
<path d="M104.70,194.00 L106.60,197.40 L102.80,197.40Z" fill="#365c9e"/>
<line x1="158.30" y1="217.00" x2="158.30" y2="226.00" stroke="#365c9e" stroke-width="0.9" />
<line x1="156.90" y1="217.00" x2="159.70" y2="217.00" stroke="#365c9e" stroke-width="0.9" />
<line x1="156.90" y1="226.00" x2="159.70" y2="226.00" stroke="#365c9e" stroke-width="0.9" />
<line x1="158.30" y1="226.00" x2="158.30" y2="233.80" stroke="#365c9e" stroke-width="0.9" />
<line x1="156.90" y1="226.70" x2="159.70" y2="226.70" stroke="#365c9e" stroke-width="0.9" />
<line x1="156.90" y1="228.70" x2="159.70" y2="228.70" stroke="#365c9e" stroke-width="0.9" />
<line x1="156.90" y1="230.70" x2="159.70" y2="230.70" stroke="#365c9e" stroke-width="0.9" />
<line x1="156.90" y1="232.70" x2="159.70" y2="232.70" stroke="#365c9e" stroke-width="0.9" />
<path d="M158.30,219.40 L160.20,222.80 L156.40,222.80Z" fill="#365c9e"/>
<line x1="211.25" y1="223.00" x2="211.25" y2="232.00" stroke="#365c9e" stroke-width="0.9" />
<line x1="209.85" y1="223.00" x2="212.65" y2="223.00" stroke="#365c9e" stroke-width="0.9" />
<line x1="209.85" y1="232.00" x2="212.65" y2="232.00" stroke="#365c9e" stroke-width="0.9" />
<line x1="211.25" y1="232.00" x2="211.25" y2="241.25" stroke="#365c9e" stroke-width="0.9" />
<line x1="209.85" y1="232.70" x2="212.65" y2="232.70" stroke="#365c9e" stroke-width="0.9" />
<line x1="209.85" y1="234.70" x2="212.65" y2="234.70" stroke="#365c9e" stroke-width="0.9" />
<line x1="209.85" y1="236.70" x2="212.65" y2="236.70" stroke="#365c9e" stroke-width="0.9" />
<line x1="209.85" y1="238.70" x2="212.65" y2="238.70" stroke="#365c9e" stroke-width="0.9" />
<line x1="209.85" y1="240.70" x2="212.65" y2="240.70" stroke="#365c9e" stroke-width="0.9" />
<path d="M211.25,225.50 L213.15,228.90 L209.35,228.90Z" fill="#365c9e"/>
<line x1="251.60" y1="218.50" x2="251.60" y2="228.00" stroke="#365c9e" stroke-width="0.9" />
<line x1="250.20" y1="218.50" x2="253.00" y2="218.50" stroke="#365c9e" stroke-width="0.9" />
<line x1="250.20" y1="228.00" x2="253.00" y2="228.00" stroke="#365c9e" stroke-width="0.9" />
<line x1="251.60" y1="228.00" x2="251.60" y2="236.25" stroke="#365c9e" stroke-width="0.9" />
<line x1="250.20" y1="228.70" x2="253.00" y2="228.70" stroke="#365c9e" stroke-width="0.9" />
<line x1="250.20" y1="230.70" x2="253.00" y2="230.70" stroke="#365c9e" stroke-width="0.9" />
<line x1="250.20" y1="232.70" x2="253.00" y2="232.70" stroke="#365c9e" stroke-width="0.9" />
<line x1="250.20" y1="234.70" x2="253.00" y2="234.70" stroke="#365c9e" stroke-width="0.9" />
<path d="M251.60,221.00 L253.50,224.40 L249.70,224.40Z" fill="#365c9e"/>
<line x1="33.90" y1="147.00" x2="255.20" y2="147.00" stroke="#151515" stroke-width="1.6" />
<line x1="254.40" y1="147.00" x2="254.40" y2="251.00" stroke="#151515" stroke-width="1.6" />
<line x1="36.50" y1="146.20" x2="36.50" y2="251.80" stroke="#151515" stroke-width="1.6" />
<line x1="35.70" y1="251.00" x2="255.20" y2="251.00" stroke="#151515" stroke-width="1.6" />
<line x1="33.30" y1="147.08" x2="36.50" y2="147.08" stroke="#151515" stroke-width="1.1" />
<text x="32.60" y="148.98" font-size="6.6" text-anchor="end" font-weight="normal" font-style="normal" fill="#111" stroke="#111" stroke-width="0.3" >20</text>
<line x1="33.30" y1="164.40" x2="36.50" y2="164.40" stroke="#151515" stroke-width="1.1" />
<text x="32.60" y="166.30" font-size="6.6" text-anchor="end" font-weight="normal" font-style="normal" fill="#111" stroke="#111" stroke-width="0.3" >0</text>
<line x1="33.30" y1="181.72" x2="36.50" y2="181.72" stroke="#151515" stroke-width="1.1" />
<text x="32.60" y="183.62" font-size="6.6" text-anchor="end" font-weight="normal" font-style="normal" fill="#111" stroke="#111" stroke-width="0.3" >-20</text>
<line x1="33.30" y1="199.04" x2="36.50" y2="199.04" stroke="#151515" stroke-width="1.1" />
<text x="32.60" y="200.94" font-size="6.6" text-anchor="end" font-weight="normal" font-style="normal" fill="#111" stroke="#111" stroke-width="0.3" >-40</text>
<line x1="33.30" y1="216.36" x2="36.50" y2="216.36" stroke="#151515" stroke-width="1.1" />
<text x="32.60" y="218.26" font-size="6.6" text-anchor="end" font-weight="normal" font-style="normal" fill="#111" stroke="#111" stroke-width="0.3" >-60</text>
<line x1="33.30" y1="233.68" x2="36.50" y2="233.68" stroke="#151515" stroke-width="1.1" />
<text x="32.60" y="235.58" font-size="6.6" text-anchor="end" font-weight="normal" font-style="normal" fill="#111" stroke="#111" stroke-width="0.3" >-80</text>
<line x1="33.30" y1="251.00" x2="36.50" y2="251.00" stroke="#151515" stroke-width="1.1" />
<text x="32.60" y="252.90" font-size="6.6" text-anchor="end" font-weight="normal" font-style="normal" fill="#111" stroke="#111" stroke-width="0.3" >-100</text>
<line x1="36.50" y1="251.00" x2="36.50" y2="253.20" stroke="#151515" stroke-width="1.0" />
<text x="38.50" y="261.90" font-size="6.6" text-anchor="middle" font-weight="normal" font-style="normal" fill="#111" stroke="#111" stroke-width="0.3" >BL</text>
<line x1="105.03" y1="251.00" x2="105.03" y2="253.20" stroke="#151515" stroke-width="1.0" />
<text x="105.03" y="261.90" font-size="6.6" text-anchor="middle" font-weight="normal" font-style="normal" fill="#111" stroke="#111" stroke-width="0.3" >36</text>
<line x1="158.32" y1="251.00" x2="158.32" y2="253.20" stroke="#151515" stroke-width="1.0" />
<text x="158.32" y="261.90" font-size="6.6" text-anchor="middle" font-weight="normal" font-style="normal" fill="#111" stroke="#111" stroke-width="0.3" >64</text>
<line x1="211.62" y1="251.00" x2="211.62" y2="253.20" stroke="#151515" stroke-width="1.0" />
<text x="211.62" y="261.90" font-size="6.6" text-anchor="middle" font-weight="normal" font-style="normal" fill="#111" stroke="#111" stroke-width="0.3" >92</text>
<line x1="251.60" y1="251.00" x2="251.60" y2="253.20" stroke="#151515" stroke-width="1.0" />
<text x="251.60" y="261.90" font-size="6.6" text-anchor="middle" font-weight="normal" font-style="normal" fill="#111" stroke="#111" stroke-width="0.3" >113</text>
<path d="M37.07,251.90 L39.77,255.60 L34.37,255.60Z" fill="#86acd6"/>
<path d="M40.50,251.90 L43.20,255.60 L37.80,255.60Z" fill="#86acd6"/>
<path d="M43.92,251.90 L46.62,255.60 L41.22,255.60Z" fill="#86acd6"/>
<path d="M47.54,251.90 L50.24,255.60 L44.84,255.60Z" fill="#86acd6"/>
<path d="M51.73,251.90 L54.43,255.60 L49.03,255.60Z" fill="#86acd6"/>
<path d="M65.05,251.90 L67.75,255.60 L62.35,255.60Z" fill="#86acd6"/>
<path d="M78.38,251.90 L81.08,255.60 L75.68,255.60Z" fill="#86acd6"/>
<path d="M91.70,251.90 L94.40,255.60 L89.00,255.60Z" fill="#86acd6"/>
<path d="M105.03,251.90 L107.73,255.60 L102.33,255.60Z" fill="#86acd6"/>
<path d="M118.35,251.90 L121.05,255.60 L115.65,255.60Z" fill="#86acd6"/>
<path d="M131.68,251.90 L134.38,255.60 L128.98,255.60Z" fill="#86acd6"/>
<path d="M145.00,251.90 L147.70,255.60 L142.30,255.60Z" fill="#86acd6"/>
<path d="M158.32,251.90 L161.02,255.60 L155.62,255.60Z" fill="#86acd6"/>
<path d="M171.65,251.90 L174.35,255.60 L168.95,255.60Z" fill="#86acd6"/>
<path d="M184.97,251.90 L187.67,255.60 L182.27,255.60Z" fill="#86acd6"/>
<path d="M198.30,251.90 L201.00,255.60 L195.60,255.60Z" fill="#86acd6"/>
<text x="139.20" y="270.90" font-size="6.5" text-anchor="middle" font-weight="bold" font-style="normal" fill="#111" stroke="#111" stroke-width="0.3" >Study Day</text>
<text transform="translate(9.95,199.00) rotate(-90)" font-size="6.35" font-weight="bold" text-anchor="middle" fill="#111" stroke="#111" stroke-width="0.35" stroke-linejoin="round">Fructosamine (μmol/L)</text>
<text transform="translate(17.70,199.00) rotate(-90)" font-size="6.35" font-weight="bold" text-anchor="middle" fill="#111" stroke="#111" stroke-width="0.35" stroke-linejoin="round">Δ Baseline, Mean (±SEM)</text>
<text transform="translate(0.50,146.40) scale(0.94,1)" font-size="15.5" font-weight="bold" fill="#111" stroke="#111" stroke-width="0.5">C</text>
<rect x="299.50" y="146.70" width="155.80" height="104.40" fill="#f6f6f6"/>
<line x1="299.50" y1="164.00" x2="516.30" y2="164.00" stroke="#a0a0a0" stroke-width="0.8" />
<text x="301.40" y="246.50" font-size="7.4" text-anchor="start" font-weight="normal" font-style="italic" fill="#111" stroke="#111" stroke-width="0.25" >treatment period</text>
<path d="M299.50,163.80 L331.50,165.40 L380.80,180.40 L417.30,176.90 L460.50,165.80 L479.00,177.30 L515.50,178.50" fill="none" stroke="#151515" stroke-width="1.3" stroke-linejoin="round"/>
<path d="M299.50,163.80 L331.50,174.90 L380.80,192.60 L417.30,192.30 L460.50,192.30 L479.00,184.30 L515.50,170.00" fill="none" stroke="#b37630" stroke-width="1.3" stroke-linejoin="round"/>
<path d="M299.50,163.80 L331.50,200.30 L380.80,225.80 L417.30,226.30 L460.50,225.40 L479.00,220.70 L515.50,190.70" fill="none" stroke="#519743" stroke-width="1.3" stroke-linejoin="round"/>
<circle cx="299.50" cy="163.80" r="1.7" fill="#151515"/>
<line x1="331.50" y1="160.00" x2="331.50" y2="169.80" stroke="#151515" stroke-width="0.9" />
<line x1="330.10" y1="160.00" x2="332.90" y2="160.00" stroke="#151515" stroke-width="0.9" />
<line x1="330.10" y1="169.80" x2="332.90" y2="169.80" stroke="#151515" stroke-width="0.9" />
<circle cx="331.50" cy="165.40" r="1.7" fill="#151515"/>
<line x1="380.80" y1="173.80" x2="380.80" y2="188.10" stroke="#151515" stroke-width="0.9" />
<line x1="379.40" y1="173.80" x2="382.20" y2="173.80" stroke="#151515" stroke-width="0.9" />
<line x1="379.40" y1="188.10" x2="382.20" y2="188.10" stroke="#151515" stroke-width="0.9" />
<circle cx="380.80" cy="180.40" r="1.7" fill="#151515"/>
<line x1="417.30" y1="170.90" x2="417.30" y2="182.00" stroke="#151515" stroke-width="0.9" />
<line x1="415.90" y1="170.90" x2="418.70" y2="170.90" stroke="#151515" stroke-width="0.9" />
<line x1="415.90" y1="182.00" x2="418.70" y2="182.00" stroke="#151515" stroke-width="0.9" />
<circle cx="417.30" cy="176.90" r="1.7" fill="#151515"/>
<line x1="460.50" y1="160.00" x2="460.50" y2="171.60" stroke="#151515" stroke-width="0.9" />
<line x1="459.10" y1="160.00" x2="461.90" y2="160.00" stroke="#151515" stroke-width="0.9" />
<line x1="459.10" y1="171.60" x2="461.90" y2="171.60" stroke="#151515" stroke-width="0.9" />
<circle cx="460.50" cy="165.80" r="1.7" fill="#151515"/>
<line x1="479.00" y1="169.20" x2="479.00" y2="184.30" stroke="#151515" stroke-width="0.9" />
<line x1="477.60" y1="169.20" x2="480.40" y2="169.20" stroke="#151515" stroke-width="0.9" />
<line x1="477.60" y1="184.30" x2="480.40" y2="184.30" stroke="#151515" stroke-width="0.9" />
<circle cx="479.00" cy="177.30" r="1.7" fill="#151515"/>
<line x1="515.50" y1="173.00" x2="515.50" y2="183.00" stroke="#151515" stroke-width="0.9" />
<line x1="514.10" y1="173.00" x2="516.90" y2="173.00" stroke="#151515" stroke-width="0.9" />
<line x1="514.10" y1="183.00" x2="516.90" y2="183.00" stroke="#151515" stroke-width="0.9" />
<circle cx="515.50" cy="178.50" r="1.7" fill="#151515"/>
<path d="M299.50,161.80 L301.50,163.80 L299.50,165.80 L297.50,163.80Z" fill="#b37630"/>
<line x1="331.50" y1="171.50" x2="331.50" y2="180.40" stroke="#b37630" stroke-width="0.9" />
<line x1="330.10" y1="171.50" x2="332.90" y2="171.50" stroke="#b37630" stroke-width="0.9" />
<line x1="330.10" y1="180.40" x2="332.90" y2="180.40" stroke="#b37630" stroke-width="0.9" />
<path d="M331.50,172.90 L333.50,174.90 L331.50,176.90 L329.50,174.90Z" fill="#b37630"/>
<line x1="380.80" y1="187.00" x2="380.80" y2="198.50" stroke="#b37630" stroke-width="0.9" />
<line x1="379.40" y1="187.00" x2="382.20" y2="187.00" stroke="#b37630" stroke-width="0.9" />
<line x1="379.40" y1="198.50" x2="382.20" y2="198.50" stroke="#b37630" stroke-width="0.9" />
<path d="M380.80,190.60 L382.80,192.60 L380.80,194.60 L378.80,192.60Z" fill="#b37630"/>
<line x1="417.30" y1="186.60" x2="417.30" y2="197.70" stroke="#b37630" stroke-width="0.9" />
<line x1="415.90" y1="186.60" x2="418.70" y2="186.60" stroke="#b37630" stroke-width="0.9" />
<line x1="415.90" y1="197.70" x2="418.70" y2="197.70" stroke="#b37630" stroke-width="0.9" />
<path d="M417.30,190.30 L419.30,192.30 L417.30,194.30 L415.30,192.30Z" fill="#b37630"/>
<line x1="460.50" y1="187.00" x2="460.50" y2="198.00" stroke="#b37630" stroke-width="0.9" />
<line x1="459.10" y1="187.00" x2="461.90" y2="187.00" stroke="#b37630" stroke-width="0.9" />
<line x1="459.10" y1="198.00" x2="461.90" y2="198.00" stroke="#b37630" stroke-width="0.9" />
<line x1="460.50" y1="183.00" x2="460.50" y2="187.00" stroke="#b37630" stroke-width="0.9" />
<line x1="459.10" y1="183.70" x2="461.90" y2="183.70" stroke="#b37630" stroke-width="0.9" />
<line x1="459.10" y1="185.70" x2="461.90" y2="185.70" stroke="#b37630" stroke-width="0.9" />
<path d="M460.50,190.30 L462.50,192.30 L460.50,194.30 L458.50,192.30Z" fill="#b37630"/>
<line x1="479.00" y1="177.30" x2="479.00" y2="191.20" stroke="#b37630" stroke-width="0.9" />
<line x1="477.60" y1="177.30" x2="480.40" y2="177.30" stroke="#b37630" stroke-width="0.9" />
<line x1="477.60" y1="191.20" x2="480.40" y2="191.20" stroke="#b37630" stroke-width="0.9" />
<path d="M479.00,182.30 L481.00,184.30 L479.00,186.30 L477.00,184.30Z" fill="#b37630"/>
<line x1="515.50" y1="159.30" x2="515.50" y2="179.60" stroke="#b37630" stroke-width="0.9" />
<line x1="514.10" y1="159.30" x2="516.90" y2="159.30" stroke="#b37630" stroke-width="0.9" />
<line x1="514.10" y1="179.60" x2="516.90" y2="179.60" stroke="#b37630" stroke-width="0.9" />
<path d="M515.50,168.00 L517.50,170.00 L515.50,172.00 L513.50,170.00Z" fill="#b37630"/>
<path d="M299.50,161.80 L301.40,165.20 L297.60,165.20Z" fill="#519743"/>
<line x1="331.50" y1="194.80" x2="331.50" y2="205.80" stroke="#519743" stroke-width="0.9" />
<line x1="330.10" y1="194.80" x2="332.90" y2="194.80" stroke="#519743" stroke-width="0.9" />
<line x1="330.10" y1="205.80" x2="332.90" y2="205.80" stroke="#519743" stroke-width="0.9" />
<line x1="331.50" y1="205.80" x2="331.50" y2="213.10" stroke="#519743" stroke-width="0.9" />
<line x1="330.10" y1="206.50" x2="332.90" y2="206.50" stroke="#519743" stroke-width="0.9" />
<line x1="330.10" y1="208.50" x2="332.90" y2="208.50" stroke="#519743" stroke-width="0.9" />
<line x1="330.10" y1="210.50" x2="332.90" y2="210.50" stroke="#519743" stroke-width="0.9" />
<line x1="330.10" y1="212.50" x2="332.90" y2="212.50" stroke="#519743" stroke-width="0.9" />
<path d="M331.50,198.30 L333.40,201.70 L329.60,201.70Z" fill="#519743"/>
<line x1="380.80" y1="218.00" x2="380.80" y2="233.00" stroke="#519743" stroke-width="0.9" />
<line x1="379.40" y1="218.00" x2="382.20" y2="218.00" stroke="#519743" stroke-width="0.9" />
<line x1="379.40" y1="233.00" x2="382.20" y2="233.00" stroke="#519743" stroke-width="0.9" />
<line x1="380.80" y1="233.00" x2="380.80" y2="239.00" stroke="#519743" stroke-width="0.9" />
<line x1="379.40" y1="233.70" x2="382.20" y2="233.70" stroke="#519743" stroke-width="0.9" />
<line x1="379.40" y1="235.70" x2="382.20" y2="235.70" stroke="#519743" stroke-width="0.9" />
<line x1="379.40" y1="237.70" x2="382.20" y2="237.70" stroke="#519743" stroke-width="0.9" />
<path d="M380.80,223.80 L382.70,227.20 L378.90,227.20Z" fill="#519743"/>
<line x1="417.30" y1="217.70" x2="417.30" y2="233.90" stroke="#519743" stroke-width="0.9" />
<line x1="415.90" y1="217.70" x2="418.70" y2="217.70" stroke="#519743" stroke-width="0.9" />
<line x1="415.90" y1="233.90" x2="418.70" y2="233.90" stroke="#519743" stroke-width="0.9" />
<line x1="417.30" y1="233.90" x2="417.30" y2="242.00" stroke="#519743" stroke-width="0.9" />
<line x1="415.90" y1="234.60" x2="418.70" y2="234.60" stroke="#519743" stroke-width="0.9" />
<line x1="415.90" y1="236.60" x2="418.70" y2="236.60" stroke="#519743" stroke-width="0.9" />
<line x1="415.90" y1="238.60" x2="418.70" y2="238.60" stroke="#519743" stroke-width="0.9" />
<line x1="415.90" y1="240.60" x2="418.70" y2="240.60" stroke="#519743" stroke-width="0.9" />
<path d="M417.30,224.30 L419.20,227.70 L415.40,227.70Z" fill="#519743"/>
<line x1="460.50" y1="217.00" x2="460.50" y2="233.20" stroke="#519743" stroke-width="0.9" />
<line x1="459.10" y1="217.00" x2="461.90" y2="217.00" stroke="#519743" stroke-width="0.9" />
<line x1="459.10" y1="233.20" x2="461.90" y2="233.20" stroke="#519743" stroke-width="0.9" />
<line x1="460.50" y1="233.20" x2="460.50" y2="239.70" stroke="#519743" stroke-width="0.9" />
<line x1="459.10" y1="233.90" x2="461.90" y2="233.90" stroke="#519743" stroke-width="0.9" />
<line x1="459.10" y1="235.90" x2="461.90" y2="235.90" stroke="#519743" stroke-width="0.9" />
<line x1="459.10" y1="237.90" x2="461.90" y2="237.90" stroke="#519743" stroke-width="0.9" />
<path d="M460.50,223.40 L462.40,226.80 L458.60,226.80Z" fill="#519743"/>
<line x1="479.00" y1="211.50" x2="479.00" y2="229.30" stroke="#519743" stroke-width="0.9" />
<line x1="477.60" y1="211.50" x2="480.40" y2="211.50" stroke="#519743" stroke-width="0.9" />
<line x1="477.60" y1="229.30" x2="480.40" y2="229.30" stroke="#519743" stroke-width="0.9" />
<line x1="479.00" y1="229.30" x2="479.00" y2="236.90" stroke="#519743" stroke-width="0.9" />
<line x1="477.60" y1="230.00" x2="480.40" y2="230.00" stroke="#519743" stroke-width="0.9" />
<line x1="477.60" y1="232.00" x2="480.40" y2="232.00" stroke="#519743" stroke-width="0.9" />
<line x1="477.60" y1="234.00" x2="480.40" y2="234.00" stroke="#519743" stroke-width="0.9" />
<line x1="477.60" y1="236.00" x2="480.40" y2="236.00" stroke="#519743" stroke-width="0.9" />
<path d="M479.00,218.70 L480.90,222.10 L477.10,222.10Z" fill="#519743"/>
<line x1="515.50" y1="183.10" x2="515.50" y2="200.40" stroke="#519743" stroke-width="0.9" />
<line x1="514.10" y1="183.10" x2="516.90" y2="183.10" stroke="#519743" stroke-width="0.9" />
<line x1="514.10" y1="200.40" x2="516.90" y2="200.40" stroke="#519743" stroke-width="0.9" />
<path d="M515.50,188.70 L517.40,192.10 L513.60,192.10Z" fill="#519743"/>
<line x1="296.90" y1="146.70" x2="517.10" y2="146.70" stroke="#151515" stroke-width="1.6" />
<line x1="516.30" y1="146.70" x2="516.30" y2="251.10" stroke="#151515" stroke-width="1.6" />
<line x1="299.50" y1="145.90" x2="299.50" y2="251.90" stroke="#151515" stroke-width="1.6" />
<line x1="298.70" y1="251.10" x2="517.10" y2="251.10" stroke="#151515" stroke-width="1.6" />
<line x1="296.30" y1="146.56" x2="299.50" y2="146.56" stroke="#151515" stroke-width="1.1" />
<text x="295.60" y="148.46" font-size="6.6" text-anchor="end" font-weight="normal" font-style="normal" fill="#111" stroke="#111" stroke-width="0.3" >20</text>
<line x1="296.30" y1="164.00" x2="299.50" y2="164.00" stroke="#151515" stroke-width="1.1" />
<text x="295.60" y="165.90" font-size="6.6" text-anchor="end" font-weight="normal" font-style="normal" fill="#111" stroke="#111" stroke-width="0.3" >0</text>
<line x1="296.30" y1="181.44" x2="299.50" y2="181.44" stroke="#151515" stroke-width="1.1" />
<text x="295.60" y="183.34" font-size="6.6" text-anchor="end" font-weight="normal" font-style="normal" fill="#111" stroke="#111" stroke-width="0.3" >-20</text>
<line x1="296.30" y1="198.88" x2="299.50" y2="198.88" stroke="#151515" stroke-width="1.1" />
<text x="295.60" y="200.78" font-size="6.6" text-anchor="end" font-weight="normal" font-style="normal" fill="#111" stroke="#111" stroke-width="0.3" >-40</text>
<line x1="296.30" y1="216.32" x2="299.50" y2="216.32" stroke="#151515" stroke-width="1.1" />
<text x="295.60" y="218.22" font-size="6.6" text-anchor="end" font-weight="normal" font-style="normal" fill="#111" stroke="#111" stroke-width="0.3" >-60</text>
<line x1="296.30" y1="233.76" x2="299.50" y2="233.76" stroke="#151515" stroke-width="1.1" />
<text x="295.60" y="235.66" font-size="6.6" text-anchor="end" font-weight="normal" font-style="normal" fill="#111" stroke="#111" stroke-width="0.3" >-80</text>
<line x1="296.30" y1="251.20" x2="299.50" y2="251.20" stroke="#151515" stroke-width="1.1" />
<text x="295.60" y="253.10" font-size="6.6" text-anchor="end" font-weight="normal" font-style="normal" fill="#111" stroke="#111" stroke-width="0.3" >-100</text>
<line x1="299.50" y1="251.10" x2="299.50" y2="253.30" stroke="#151515" stroke-width="1.0" />
<text x="300.00" y="262.00" font-size="6.6" text-anchor="middle" font-weight="normal" font-style="normal" fill="#111" stroke="#111" stroke-width="0.3" >BL</text>
<line x1="331.14" y1="251.10" x2="331.14" y2="253.30" stroke="#151515" stroke-width="1.0" />
<text x="330.50" y="262.00" font-size="6.6" text-anchor="middle" font-weight="normal" font-style="normal" fill="#111" stroke="#111" stroke-width="0.3" >36</text>
<line x1="380.36" y1="251.10" x2="380.36" y2="253.30" stroke="#151515" stroke-width="1.0" />
<text x="381.20" y="262.00" font-size="6.6" text-anchor="middle" font-weight="normal" font-style="normal" fill="#111" stroke="#111" stroke-width="0.3" >92</text>
<line x1="417.27" y1="251.10" x2="417.27" y2="253.30" stroke="#151515" stroke-width="1.0" />
<text x="411.50" y="262.00" font-size="6.6" text-anchor="middle" font-weight="normal" font-style="normal" fill="#111" stroke="#111" stroke-width="0.3" >134</text>
<line x1="455.10" y1="251.10" x2="455.10" y2="253.30" stroke="#151515" stroke-width="1.0" />
<text x="455.10" y="262.00" font-size="6.6" text-anchor="middle" font-weight="normal" font-style="normal" fill="#111" stroke="#111" stroke-width="0.3" >176</text>
<line x1="478.90" y1="251.10" x2="478.90" y2="253.30" stroke="#151515" stroke-width="1.0" />
<text x="478.90" y="262.00" font-size="6.6" text-anchor="middle" font-weight="normal" font-style="normal" fill="#111" stroke="#111" stroke-width="0.3" >204</text>
<line x1="515.60" y1="251.10" x2="515.60" y2="253.30" stroke="#151515" stroke-width="1.0" />
<text x="514.60" y="262.00" font-size="6.6" text-anchor="middle" font-weight="normal" font-style="normal" fill="#111" stroke="#111" stroke-width="0.3" >246</text>
<path d="M300.38,252.00 L303.08,255.70 L297.68,255.70Z" fill="#86acd6"/>
<path d="M306.53,252.00 L309.23,255.70 L303.83,255.70Z" fill="#86acd6"/>
<path d="M312.68,252.00 L315.38,255.70 L309.98,255.70Z" fill="#86acd6"/>
<path d="M318.84,252.00 L321.54,255.70 L316.14,255.70Z" fill="#86acd6"/>
<path d="M324.99,252.00 L327.69,255.70 L322.29,255.70Z" fill="#86acd6"/>
<path d="M331.14,252.00 L333.84,255.70 L328.44,255.70Z" fill="#86acd6"/>
<path d="M337.29,252.00 L339.99,255.70 L334.59,255.70Z" fill="#86acd6"/>
<path d="M343.44,252.00 L346.14,255.70 L340.75,255.70Z" fill="#86acd6"/>
<path d="M349.60,252.00 L352.30,255.70 L346.90,255.70Z" fill="#86acd6"/>
<path d="M355.75,252.00 L358.45,255.70 L353.05,255.70Z" fill="#86acd6"/>
<path d="M361.90,252.00 L364.60,255.70 L359.20,255.70Z" fill="#86acd6"/>
<path d="M368.05,252.00 L370.75,255.70 L365.35,255.70Z" fill="#86acd6"/>
<path d="M374.21,252.00 L376.91,255.70 L371.51,255.70Z" fill="#86acd6"/>
<path d="M380.36,252.00 L383.06,255.70 L377.66,255.70Z" fill="#86acd6"/>
<path d="M386.51,252.00 L389.21,255.70 L383.81,255.70Z" fill="#86acd6"/>
<path d="M392.66,252.00 L395.36,255.70 L389.96,255.70Z" fill="#86acd6"/>
<path d="M398.82,252.00 L401.52,255.70 L396.12,255.70Z" fill="#86acd6"/>
<path d="M404.97,252.00 L407.67,255.70 L402.27,255.70Z" fill="#86acd6"/>
<path d="M411.12,252.00 L413.82,255.70 L408.42,255.70Z" fill="#86acd6"/>
<path d="M417.27,252.00 L419.97,255.70 L414.57,255.70Z" fill="#86acd6"/>
<path d="M423.42,252.00 L426.12,255.70 L420.72,255.70Z" fill="#86acd6"/>
<path d="M429.58,252.00 L432.28,255.70 L426.88,255.70Z" fill="#86acd6"/>
<path d="M435.73,252.00 L438.43,255.70 L433.03,255.70Z" fill="#86acd6"/>
<path d="M441.88,252.00 L444.58,255.70 L439.18,255.70Z" fill="#86acd6"/>
<path d="M448.03,252.00 L450.73,255.70 L445.33,255.70Z" fill="#86acd6"/>
<path d="M454.19,252.00 L456.89,255.70 L451.49,255.70Z" fill="#86acd6"/>
<text x="403.30" y="270.90" font-size="6.5" text-anchor="middle" font-weight="bold" font-style="normal" fill="#111" stroke="#111" stroke-width="0.3" >Study Day</text>
<text transform="translate(274.10,199.00) rotate(-90)" font-size="6.35" font-weight="bold" text-anchor="middle" fill="#111" stroke="#111" stroke-width="0.35" stroke-linejoin="round">Fructosamine (μmol/L)</text>
<text transform="translate(281.60,199.00) rotate(-90)" font-size="6.35" font-weight="bold" text-anchor="middle" fill="#111" stroke="#111" stroke-width="0.35" stroke-linejoin="round">Δ Baseline, Mean (±SEM)</text>
<text transform="translate(263.30,146.10) scale(0.94,1)" font-size="15.5" font-weight="bold" fill="#111" stroke="#111" stroke-width="0.5">D</text>
<rect x="36.90" y="282.00" width="108.84" height="101.40" fill="#f6f6f6"/>
<line x1="36.90" y1="376.40" x2="255.00" y2="376.40" stroke="#a0a0a0" stroke-width="0.8" />
<text x="40.00" y="289.70" font-size="7.4" text-anchor="start" font-weight="normal" font-style="italic" fill="#111" stroke="#111" stroke-width="0.25" >treatment period</text>
<path d="M36.90,376.40 L56.20,376.60 L83.00,376.60 L101.30,376.40 L118.80,376.40 L155.00,377.70 L181.60,376.50 L253.30,375.40" fill="none" stroke="#151515" stroke-width="1.3" stroke-linejoin="round"/>
<path d="M36.90,376.40 L56.20,367.10 L83.00,357.40 L101.30,355.50 L118.80,349.30 L155.00,353.90 L181.60,359.20 L253.30,371.20" fill="none" stroke="#9e1f2b" stroke-width="1.3" stroke-linejoin="round"/>
<path d="M36.90,376.40 L56.20,359.70 L83.00,331.30 L101.30,327.30 L118.80,312.30 L155.00,303.10 L181.60,315.80 L253.30,359.70" fill="none" stroke="#365c9e" stroke-width="1.3" stroke-linejoin="round"/>
<circle cx="36.90" cy="376.40" r="1.7" fill="#151515"/>
<circle cx="56.20" cy="376.60" r="1.7" fill="#151515"/>
<circle cx="83.00" cy="376.60" r="1.7" fill="#151515"/>
<circle cx="101.30" cy="376.40" r="1.7" fill="#151515"/>
<circle cx="118.80" cy="376.40" r="1.7" fill="#151515"/>
<circle cx="155.00" cy="377.70" r="1.7" fill="#151515"/>
<circle cx="181.60" cy="376.50" r="1.7" fill="#151515"/>
<circle cx="253.30" cy="375.40" r="1.7" fill="#151515"/>
<rect x="35.30" y="374.80" width="3.2" height="3.2" fill="#9e1f2b"/>
<line x1="56.20" y1="364.50" x2="56.20" y2="369.50" stroke="#9e1f2b" stroke-width="0.9" />
<line x1="54.80" y1="364.50" x2="57.60" y2="364.50" stroke="#9e1f2b" stroke-width="0.9" />
<line x1="54.80" y1="369.50" x2="57.60" y2="369.50" stroke="#9e1f2b" stroke-width="0.9" />
<line x1="58.50" y1="369.50" x2="58.50" y2="373.50" stroke="#9e1f2b" stroke-width="0.9" />
<line x1="57.10" y1="370.20" x2="59.90" y2="370.20" stroke="#9e1f2b" stroke-width="0.9" />
<line x1="57.10" y1="372.20" x2="59.90" y2="372.20" stroke="#9e1f2b" stroke-width="0.9" />
<rect x="54.60" y="365.50" width="3.2" height="3.2" fill="#9e1f2b"/>
<line x1="83.00" y1="354.40" x2="83.00" y2="360.80" stroke="#9e1f2b" stroke-width="0.9" />
<line x1="81.60" y1="354.40" x2="84.40" y2="354.40" stroke="#9e1f2b" stroke-width="0.9" />
<line x1="81.60" y1="360.80" x2="84.40" y2="360.80" stroke="#9e1f2b" stroke-width="0.9" />
<line x1="83.00" y1="360.80" x2="83.00" y2="366.60" stroke="#9e1f2b" stroke-width="0.9" />
<line x1="81.60" y1="361.50" x2="84.40" y2="361.50" stroke="#9e1f2b" stroke-width="0.9" />
<line x1="81.60" y1="363.50" x2="84.40" y2="363.50" stroke="#9e1f2b" stroke-width="0.9" />
<line x1="81.60" y1="365.50" x2="84.40" y2="365.50" stroke="#9e1f2b" stroke-width="0.9" />
<rect x="81.40" y="355.80" width="3.2" height="3.2" fill="#9e1f2b"/>
<line x1="101.30" y1="352.00" x2="101.30" y2="358.50" stroke="#9e1f2b" stroke-width="0.9" />
<line x1="99.90" y1="352.00" x2="102.70" y2="352.00" stroke="#9e1f2b" stroke-width="0.9" />
<line x1="99.90" y1="358.50" x2="102.70" y2="358.50" stroke="#9e1f2b" stroke-width="0.9" />
<line x1="101.30" y1="358.50" x2="101.30" y2="365.00" stroke="#9e1f2b" stroke-width="0.9" />
<line x1="99.90" y1="359.20" x2="102.70" y2="359.20" stroke="#9e1f2b" stroke-width="0.9" />
<line x1="99.90" y1="361.20" x2="102.70" y2="361.20" stroke="#9e1f2b" stroke-width="0.9" />
<line x1="99.90" y1="363.20" x2="102.70" y2="363.20" stroke="#9e1f2b" stroke-width="0.9" />
<rect x="99.70" y="353.90" width="3.2" height="3.2" fill="#9e1f2b"/>
<line x1="118.80" y1="343.50" x2="118.80" y2="354.40" stroke="#9e1f2b" stroke-width="0.9" />
<line x1="117.40" y1="343.50" x2="120.20" y2="343.50" stroke="#9e1f2b" stroke-width="0.9" />
<line x1="117.40" y1="354.40" x2="120.20" y2="354.40" stroke="#9e1f2b" stroke-width="0.9" />
<line x1="118.80" y1="354.40" x2="118.80" y2="362.00" stroke="#9e1f2b" stroke-width="0.9" />
<line x1="117.40" y1="355.10" x2="120.20" y2="355.10" stroke="#9e1f2b" stroke-width="0.9" />
<line x1="117.40" y1="357.10" x2="120.20" y2="357.10" stroke="#9e1f2b" stroke-width="0.9" />
<line x1="117.40" y1="359.10" x2="120.20" y2="359.10" stroke="#9e1f2b" stroke-width="0.9" />
<line x1="117.40" y1="361.10" x2="120.20" y2="361.10" stroke="#9e1f2b" stroke-width="0.9" />
<rect x="117.20" y="347.70" width="3.2" height="3.2" fill="#9e1f2b"/>
<line x1="155.00" y1="351.60" x2="155.00" y2="356.50" stroke="#9e1f2b" stroke-width="0.9" />
<line x1="153.60" y1="351.60" x2="156.40" y2="351.60" stroke="#9e1f2b" stroke-width="0.9" />
<line x1="153.60" y1="356.50" x2="156.40" y2="356.50" stroke="#9e1f2b" stroke-width="0.9" />
<line x1="155.00" y1="356.50" x2="155.00" y2="362.70" stroke="#9e1f2b" stroke-width="0.9" />
<line x1="153.60" y1="357.20" x2="156.40" y2="357.20" stroke="#9e1f2b" stroke-width="0.9" />
<line x1="153.60" y1="359.20" x2="156.40" y2="359.20" stroke="#9e1f2b" stroke-width="0.9" />
<line x1="153.60" y1="361.20" x2="156.40" y2="361.20" stroke="#9e1f2b" stroke-width="0.9" />
<rect x="153.40" y="352.30" width="3.2" height="3.2" fill="#9e1f2b"/>
<line x1="181.60" y1="356.20" x2="181.60" y2="362.00" stroke="#9e1f2b" stroke-width="0.9" />
<line x1="180.20" y1="356.20" x2="183.00" y2="356.20" stroke="#9e1f2b" stroke-width="0.9" />
<line x1="180.20" y1="362.00" x2="183.00" y2="362.00" stroke="#9e1f2b" stroke-width="0.9" />
<line x1="181.60" y1="362.00" x2="181.60" y2="368.20" stroke="#9e1f2b" stroke-width="0.9" />
<line x1="180.20" y1="362.70" x2="183.00" y2="362.70" stroke="#9e1f2b" stroke-width="0.9" />
<line x1="180.20" y1="364.70" x2="183.00" y2="364.70" stroke="#9e1f2b" stroke-width="0.9" />
<line x1="180.20" y1="366.70" x2="183.00" y2="366.70" stroke="#9e1f2b" stroke-width="0.9" />
<rect x="180.00" y="357.60" width="3.2" height="3.2" fill="#9e1f2b"/>
<text x="249.80" y="369.50" font-size="6.3" text-anchor="middle" font-weight="bold" font-style="normal" fill="#9e1f2b" stroke="#9e1f2b" stroke-width="0.2" >†</text>
<rect x="251.70" y="369.60" width="3.2" height="3.2" fill="#9e1f2b"/>
<path d="M36.90,374.40 L38.80,377.80 L35.00,377.80Z" fill="#365c9e"/>
<line x1="56.20" y1="352.00" x2="56.20" y2="366.60" stroke="#365c9e" stroke-width="0.9" />
<line x1="54.80" y1="352.00" x2="57.60" y2="352.00" stroke="#365c9e" stroke-width="0.9" />
<line x1="54.80" y1="366.60" x2="57.60" y2="366.60" stroke="#365c9e" stroke-width="0.9" />
<line x1="56.20" y1="348.10" x2="56.20" y2="352.00" stroke="#365c9e" stroke-width="0.9" />
<line x1="54.80" y1="348.80" x2="57.60" y2="348.80" stroke="#365c9e" stroke-width="0.9" />
<line x1="54.80" y1="350.80" x2="57.60" y2="350.80" stroke="#365c9e" stroke-width="0.9" />
<path d="M56.20,357.70 L58.10,361.10 L54.30,361.10Z" fill="#365c9e"/>
<line x1="83.00" y1="321.60" x2="83.00" y2="341.90" stroke="#365c9e" stroke-width="0.9" />
<line x1="81.60" y1="321.60" x2="84.40" y2="321.60" stroke="#365c9e" stroke-width="0.9" />
<line x1="81.60" y1="341.90" x2="84.40" y2="341.90" stroke="#365c9e" stroke-width="0.9" />
<line x1="83.00" y1="315.80" x2="83.00" y2="321.60" stroke="#365c9e" stroke-width="0.9" />
<line x1="81.60" y1="316.50" x2="84.40" y2="316.50" stroke="#365c9e" stroke-width="0.9" />
<line x1="81.60" y1="318.50" x2="84.40" y2="318.50" stroke="#365c9e" stroke-width="0.9" />
<line x1="81.60" y1="320.50" x2="84.40" y2="320.50" stroke="#365c9e" stroke-width="0.9" />
<path d="M83.00,329.30 L84.90,332.70 L81.10,332.70Z" fill="#365c9e"/>
<line x1="101.30" y1="318.10" x2="101.30" y2="336.60" stroke="#365c9e" stroke-width="0.9" />
<line x1="99.90" y1="318.10" x2="102.70" y2="318.10" stroke="#365c9e" stroke-width="0.9" />
<line x1="99.90" y1="336.60" x2="102.70" y2="336.60" stroke="#365c9e" stroke-width="0.9" />
<line x1="101.30" y1="310.00" x2="101.30" y2="318.10" stroke="#365c9e" stroke-width="0.9" />
<line x1="99.90" y1="310.70" x2="102.70" y2="310.70" stroke="#365c9e" stroke-width="0.9" />
<line x1="99.90" y1="312.70" x2="102.70" y2="312.70" stroke="#365c9e" stroke-width="0.9" />
<line x1="99.90" y1="314.70" x2="102.70" y2="314.70" stroke="#365c9e" stroke-width="0.9" />
<line x1="99.90" y1="316.70" x2="102.70" y2="316.70" stroke="#365c9e" stroke-width="0.9" />
<path d="M101.30,325.30 L103.20,328.70 L99.40,328.70Z" fill="#365c9e"/>
<line x1="118.80" y1="301.90" x2="118.80" y2="323.90" stroke="#365c9e" stroke-width="0.9" />
<line x1="117.40" y1="301.90" x2="120.20" y2="301.90" stroke="#365c9e" stroke-width="0.9" />
<line x1="117.40" y1="323.90" x2="120.20" y2="323.90" stroke="#365c9e" stroke-width="0.9" />
<line x1="118.80" y1="295.00" x2="118.80" y2="301.90" stroke="#365c9e" stroke-width="0.9" />
<line x1="117.40" y1="295.70" x2="120.20" y2="295.70" stroke="#365c9e" stroke-width="0.9" />
<line x1="117.40" y1="297.70" x2="120.20" y2="297.70" stroke="#365c9e" stroke-width="0.9" />
<line x1="117.40" y1="299.70" x2="120.20" y2="299.70" stroke="#365c9e" stroke-width="0.9" />
<line x1="117.40" y1="301.70" x2="120.20" y2="301.70" stroke="#365c9e" stroke-width="0.9" />
<path d="M118.80,310.30 L120.70,313.70 L116.90,313.70Z" fill="#365c9e"/>
<line x1="155.00" y1="293.90" x2="155.00" y2="312.30" stroke="#365c9e" stroke-width="0.9" />
<line x1="153.60" y1="293.90" x2="156.40" y2="293.90" stroke="#365c9e" stroke-width="0.9" />
<line x1="153.60" y1="312.30" x2="156.40" y2="312.30" stroke="#365c9e" stroke-width="0.9" />
<line x1="155.00" y1="288.10" x2="155.00" y2="293.90" stroke="#365c9e" stroke-width="0.9" />
<line x1="153.60" y1="288.80" x2="156.40" y2="288.80" stroke="#365c9e" stroke-width="0.9" />
<line x1="153.60" y1="290.80" x2="156.40" y2="290.80" stroke="#365c9e" stroke-width="0.9" />
<line x1="153.60" y1="292.80" x2="156.40" y2="292.80" stroke="#365c9e" stroke-width="0.9" />
<path d="M155.00,301.10 L156.90,304.50 L153.10,304.50Z" fill="#365c9e"/>
<line x1="181.60" y1="306.60" x2="181.60" y2="325.70" stroke="#365c9e" stroke-width="0.9" />
<line x1="180.20" y1="306.60" x2="183.00" y2="306.60" stroke="#365c9e" stroke-width="0.9" />
<line x1="180.20" y1="325.70" x2="183.00" y2="325.70" stroke="#365c9e" stroke-width="0.9" />
<line x1="181.60" y1="300.80" x2="181.60" y2="306.60" stroke="#365c9e" stroke-width="0.9" />
<line x1="180.20" y1="301.50" x2="183.00" y2="301.50" stroke="#365c9e" stroke-width="0.9" />
<line x1="180.20" y1="303.50" x2="183.00" y2="303.50" stroke="#365c9e" stroke-width="0.9" />
<line x1="180.20" y1="305.50" x2="183.00" y2="305.50" stroke="#365c9e" stroke-width="0.9" />
<path d="M181.60,313.80 L183.50,317.20 L179.70,317.20Z" fill="#365c9e"/>
<line x1="253.30" y1="355.00" x2="253.30" y2="363.00" stroke="#365c9e" stroke-width="0.9" />
<line x1="251.90" y1="355.00" x2="254.70" y2="355.00" stroke="#365c9e" stroke-width="0.9" />
<line x1="251.90" y1="363.00" x2="254.70" y2="363.00" stroke="#365c9e" stroke-width="0.9" />
<line x1="253.30" y1="351.60" x2="253.30" y2="355.00" stroke="#365c9e" stroke-width="0.9" />
<line x1="251.90" y1="352.30" x2="254.70" y2="352.30" stroke="#365c9e" stroke-width="0.9" />
<line x1="251.90" y1="354.30" x2="254.70" y2="354.30" stroke="#365c9e" stroke-width="0.9" />
<path d="M253.30,357.70 L255.20,361.10 L251.40,361.10Z" fill="#365c9e"/>
<line x1="34.30" y1="282.00" x2="255.80" y2="282.00" stroke="#151515" stroke-width="1.6" />
<line x1="255.00" y1="282.00" x2="255.00" y2="383.40" stroke="#151515" stroke-width="1.6" />
<line x1="36.90" y1="281.20" x2="36.90" y2="384.20" stroke="#151515" stroke-width="1.6" />
<line x1="36.10" y1="383.40" x2="255.80" y2="383.40" stroke="#151515" stroke-width="1.6" />
<line x1="33.70" y1="289.40" x2="36.90" y2="289.40" stroke="#151515" stroke-width="1.1" />
<text x="33.00" y="291.30" font-size="6.6" text-anchor="end" font-weight="normal" font-style="normal" fill="#111" stroke="#111" stroke-width="0.3" >600</text>
<line x1="33.70" y1="303.90" x2="36.90" y2="303.90" stroke="#151515" stroke-width="1.1" />
<text x="33.00" y="305.80" font-size="6.6" text-anchor="end" font-weight="normal" font-style="normal" fill="#111" stroke="#111" stroke-width="0.3" >500</text>
<line x1="33.70" y1="318.40" x2="36.90" y2="318.40" stroke="#151515" stroke-width="1.1" />
<text x="33.00" y="320.30" font-size="6.6" text-anchor="end" font-weight="normal" font-style="normal" fill="#111" stroke="#111" stroke-width="0.3" >400</text>
<line x1="33.70" y1="332.90" x2="36.90" y2="332.90" stroke="#151515" stroke-width="1.1" />
<text x="33.00" y="334.80" font-size="6.6" text-anchor="end" font-weight="normal" font-style="normal" fill="#111" stroke="#111" stroke-width="0.3" >300</text>
<line x1="33.70" y1="347.40" x2="36.90" y2="347.40" stroke="#151515" stroke-width="1.1" />
<text x="33.00" y="349.30" font-size="6.6" text-anchor="end" font-weight="normal" font-style="normal" fill="#111" stroke="#111" stroke-width="0.3" >200</text>
<line x1="33.70" y1="361.90" x2="36.90" y2="361.90" stroke="#151515" stroke-width="1.1" />
<text x="33.00" y="363.80" font-size="6.6" text-anchor="end" font-weight="normal" font-style="normal" fill="#111" stroke="#111" stroke-width="0.3" >100</text>
<line x1="33.70" y1="376.40" x2="36.90" y2="376.40" stroke="#151515" stroke-width="1.1" />
<text x="33.00" y="378.30" font-size="6.6" text-anchor="end" font-weight="normal" font-style="normal" fill="#111" stroke="#111" stroke-width="0.3" >0</text>
<line x1="35.10" y1="383.65" x2="36.90" y2="383.65" stroke="#151515" stroke-width="0.9" />
<line x1="35.10" y1="369.15" x2="36.90" y2="369.15" stroke="#151515" stroke-width="0.9" />
<line x1="35.10" y1="354.65" x2="36.90" y2="354.65" stroke="#151515" stroke-width="0.9" />
<line x1="35.10" y1="340.15" x2="36.90" y2="340.15" stroke="#151515" stroke-width="0.9" />
<line x1="35.10" y1="325.65" x2="36.90" y2="325.65" stroke="#151515" stroke-width="0.9" />
<line x1="35.10" y1="311.15" x2="36.90" y2="311.15" stroke="#151515" stroke-width="0.9" />
<line x1="35.10" y1="296.65" x2="36.90" y2="296.65" stroke="#151515" stroke-width="0.9" />
<line x1="35.10" y1="282.15" x2="36.90" y2="282.15" stroke="#151515" stroke-width="0.9" />
<line x1="36.90" y1="383.40" x2="36.90" y2="385.60" stroke="#151515" stroke-width="1.0" />
<text x="38.50" y="394.30" font-size="6.6" text-anchor="middle" font-weight="normal" font-style="normal" fill="#111" stroke="#111" stroke-width="0.3" >BL</text>
<line x1="56.11" y1="383.40" x2="56.11" y2="385.60" stroke="#151515" stroke-width="1.0" />
<text x="56.11" y="394.30" font-size="6.6" text-anchor="middle" font-weight="normal" font-style="normal" fill="#111" stroke="#111" stroke-width="0.3" >15</text>
<line x1="83.00" y1="383.40" x2="83.00" y2="385.60" stroke="#151515" stroke-width="1.0" />
<text x="83.00" y="394.30" font-size="6.6" text-anchor="middle" font-weight="normal" font-style="normal" fill="#111" stroke="#111" stroke-width="0.3" >36</text>
<line x1="100.93" y1="383.40" x2="100.93" y2="385.60" stroke="#151515" stroke-width="1.0" />
<text x="100.93" y="394.30" font-size="6.6" text-anchor="middle" font-weight="normal" font-style="normal" fill="#111" stroke="#111" stroke-width="0.3" >50</text>
<line x1="118.85" y1="383.40" x2="118.85" y2="385.60" stroke="#151515" stroke-width="1.0" />
<text x="118.85" y="394.30" font-size="6.6" text-anchor="middle" font-weight="normal" font-style="normal" fill="#111" stroke="#111" stroke-width="0.3" >64</text>
<line x1="154.71" y1="383.40" x2="154.71" y2="385.60" stroke="#151515" stroke-width="1.0" />
<text x="154.71" y="394.30" font-size="6.6" text-anchor="middle" font-weight="normal" font-style="normal" fill="#111" stroke="#111" stroke-width="0.3" >92</text>
<line x1="181.60" y1="383.40" x2="181.60" y2="385.60" stroke="#151515" stroke-width="1.0" />
<text x="181.60" y="394.30" font-size="6.6" text-anchor="middle" font-weight="normal" font-style="normal" fill="#111" stroke="#111" stroke-width="0.3" >113</text>
<line x1="253.30" y1="383.40" x2="253.30" y2="385.60" stroke="#151515" stroke-width="1.0" />
<text x="253.30" y="394.30" font-size="6.6" text-anchor="middle" font-weight="normal" font-style="normal" fill="#111" stroke="#111" stroke-width="0.3" >169</text>
<path d="M37.28,384.30 L39.98,388.00 L34.58,388.00Z" fill="#86acd6"/>
<path d="M39.59,384.30 L42.29,388.00 L36.89,388.00Z" fill="#86acd6"/>
<path d="M41.89,384.30 L44.59,388.00 L39.19,388.00Z" fill="#86acd6"/>
<path d="M44.33,384.30 L47.03,388.00 L41.63,388.00Z" fill="#86acd6"/>
<path d="M47.14,384.30 L49.84,388.00 L44.44,388.00Z" fill="#86acd6"/>
<path d="M56.11,384.30 L58.81,388.00 L53.41,388.00Z" fill="#86acd6"/>
<path d="M65.07,384.30 L67.77,388.00 L62.37,388.00Z" fill="#86acd6"/>
<path d="M74.03,384.30 L76.73,388.00 L71.33,388.00Z" fill="#86acd6"/>
<path d="M83.00,384.30 L85.70,388.00 L80.30,388.00Z" fill="#86acd6"/>
<path d="M91.96,384.30 L94.66,388.00 L89.26,388.00Z" fill="#86acd6"/>
<path d="M100.93,384.30 L103.63,388.00 L98.23,388.00Z" fill="#86acd6"/>
<path d="M109.89,384.30 L112.59,388.00 L107.19,388.00Z" fill="#86acd6"/>
<path d="M118.85,384.30 L121.55,388.00 L116.15,388.00Z" fill="#86acd6"/>
<path d="M127.82,384.30 L130.52,388.00 L125.12,388.00Z" fill="#86acd6"/>
<path d="M136.78,384.30 L139.48,388.00 L134.08,388.00Z" fill="#86acd6"/>
<path d="M145.74,384.30 L148.44,388.00 L143.04,388.00Z" fill="#86acd6"/>
<text x="139.25" y="402.40" font-size="6.5" text-anchor="middle" font-weight="bold" font-style="normal" fill="#111" stroke="#111" stroke-width="0.3" >Study Day</text>
<text transform="translate(10.40,332.70) rotate(-90)" font-size="6.35" font-weight="bold" text-anchor="middle" fill="#111" stroke="#111" stroke-width="0.35" stroke-linejoin="round">Fasting Glucagon (pg/mL)</text>
<text transform="translate(18.60,332.70) rotate(-90)" font-size="6.35" font-weight="bold" text-anchor="middle" fill="#111" stroke="#111" stroke-width="0.35" stroke-linejoin="round">Δ Baseline, Mean (±SEM)</text>
<text transform="translate(0.50,282.50) scale(0.94,1)" font-size="15.5" font-weight="bold" fill="#111" stroke="#111" stroke-width="0.5">E</text>
<rect x="299.60" y="282.00" width="188.10" height="101.30" fill="#f6f6f6"/>
<line x1="299.60" y1="376.00" x2="517.80" y2="376.00" stroke="#a0a0a0" stroke-width="0.8" />
<text x="303.00" y="290.30" font-size="7.4" text-anchor="start" font-weight="normal" font-style="italic" fill="#111" stroke="#111" stroke-width="0.25" >treatment period</text>
<path d="M299.60,376.00 L315.70,376.50 L338.10,378.90 L360.40,376.10 L398.00,375.90 L442.60,374.80 L494.50,378.30 L516.30,377.10" fill="none" stroke="#151515" stroke-width="1.3" stroke-linejoin="round"/>
<path d="M299.60,376.00 L315.70,375.00 L338.10,368.70 L360.40,369.70 L398.00,363.20 L442.60,361.30 L494.50,360.80 L516.30,360.40" fill="none" stroke="#b37630" stroke-width="1.3" stroke-linejoin="round"/>
<path d="M299.60,376.00 L315.70,374.00 L338.10,368.50 L360.40,358.10 L398.00,354.20 L442.60,350.40 L494.50,354.60 L516.30,361.30" fill="none" stroke="#519743" stroke-width="1.3" stroke-linejoin="round"/>
<circle cx="299.60" cy="376.00" r="1.7" fill="#151515"/>
<line x1="315.70" y1="374.50" x2="315.70" y2="378.50" stroke="#151515" stroke-width="0.9" />
<line x1="314.30" y1="374.50" x2="317.10" y2="374.50" stroke="#151515" stroke-width="0.9" />
<line x1="314.30" y1="378.50" x2="317.10" y2="378.50" stroke="#151515" stroke-width="0.9" />
<circle cx="315.70" cy="376.50" r="1.7" fill="#151515"/>
<line x1="338.10" y1="376.60" x2="338.10" y2="382.40" stroke="#151515" stroke-width="0.9" />
<line x1="336.70" y1="376.60" x2="339.50" y2="376.60" stroke="#151515" stroke-width="0.9" />
<line x1="336.70" y1="382.40" x2="339.50" y2="382.40" stroke="#151515" stroke-width="0.9" />
<circle cx="338.10" cy="378.90" r="1.7" fill="#151515"/>
<line x1="360.40" y1="373.60" x2="360.40" y2="379.60" stroke="#151515" stroke-width="0.9" />
<line x1="359.00" y1="373.60" x2="361.80" y2="373.60" stroke="#151515" stroke-width="0.9" />
<line x1="359.00" y1="379.60" x2="361.80" y2="379.60" stroke="#151515" stroke-width="0.9" />
<circle cx="360.40" cy="376.10" r="1.7" fill="#151515"/>
<line x1="398.00" y1="373.60" x2="398.00" y2="378.20" stroke="#151515" stroke-width="0.9" />
<line x1="396.60" y1="373.60" x2="399.40" y2="373.60" stroke="#151515" stroke-width="0.9" />
<line x1="396.60" y1="378.20" x2="399.40" y2="378.20" stroke="#151515" stroke-width="0.9" />
<circle cx="398.00" cy="375.90" r="1.7" fill="#151515"/>
<line x1="442.60" y1="371.50" x2="442.60" y2="377.70" stroke="#151515" stroke-width="0.9" />
<line x1="441.20" y1="371.50" x2="444.00" y2="371.50" stroke="#151515" stroke-width="0.9" />
<line x1="441.20" y1="377.70" x2="444.00" y2="377.70" stroke="#151515" stroke-width="0.9" />
<circle cx="442.60" cy="374.80" r="1.7" fill="#151515"/>
<line x1="494.50" y1="376.50" x2="494.50" y2="380.00" stroke="#151515" stroke-width="0.9" />
<line x1="493.10" y1="376.50" x2="495.90" y2="376.50" stroke="#151515" stroke-width="0.9" />
<line x1="493.10" y1="380.00" x2="495.90" y2="380.00" stroke="#151515" stroke-width="0.9" />
<circle cx="494.50" cy="378.30" r="1.7" fill="#151515"/>
<line x1="516.30" y1="375.00" x2="516.30" y2="379.00" stroke="#151515" stroke-width="0.9" />
<line x1="514.90" y1="375.00" x2="517.70" y2="375.00" stroke="#151515" stroke-width="0.9" />
<line x1="514.90" y1="379.00" x2="517.70" y2="379.00" stroke="#151515" stroke-width="0.9" />
<circle cx="516.30" cy="377.10" r="1.7" fill="#151515"/>
<path d="M299.60,374.00 L301.60,376.00 L299.60,378.00 L297.60,376.00Z" fill="#b37630"/>
<line x1="315.70" y1="372.00" x2="315.70" y2="377.50" stroke="#b37630" stroke-width="0.9" />
<line x1="314.30" y1="372.00" x2="317.10" y2="372.00" stroke="#b37630" stroke-width="0.9" />
<line x1="314.30" y1="377.50" x2="317.10" y2="377.50" stroke="#b37630" stroke-width="0.9" />
<path d="M315.70,373.00 L317.70,375.00 L315.70,377.00 L313.70,375.00Z" fill="#b37630"/>
<line x1="338.10" y1="365.50" x2="338.10" y2="372.00" stroke="#b37630" stroke-width="0.9" />
<line x1="336.70" y1="365.50" x2="339.50" y2="365.50" stroke="#b37630" stroke-width="0.9" />
<line x1="336.70" y1="372.00" x2="339.50" y2="372.00" stroke="#b37630" stroke-width="0.9" />
<path d="M338.10,366.70 L340.10,368.70 L338.10,370.70 L336.10,368.70Z" fill="#b37630"/>
<line x1="360.40" y1="366.20" x2="360.40" y2="373.10" stroke="#b37630" stroke-width="0.9" />
<line x1="359.00" y1="366.20" x2="361.80" y2="366.20" stroke="#b37630" stroke-width="0.9" />
<line x1="359.00" y1="373.10" x2="361.80" y2="373.10" stroke="#b37630" stroke-width="0.9" />
<path d="M360.40,367.70 L362.40,369.70 L360.40,371.70 L358.40,369.70Z" fill="#b37630"/>
<line x1="398.00" y1="359.30" x2="398.00" y2="367.30" stroke="#b37630" stroke-width="0.9" />
<line x1="396.60" y1="359.30" x2="399.40" y2="359.30" stroke="#b37630" stroke-width="0.9" />
<line x1="396.60" y1="367.30" x2="399.40" y2="367.30" stroke="#b37630" stroke-width="0.9" />
<path d="M398.00,361.20 L400.00,363.20 L398.00,365.20 L396.00,363.20Z" fill="#b37630"/>
<line x1="442.60" y1="357.50" x2="442.60" y2="365.20" stroke="#b37630" stroke-width="0.9" />
<line x1="441.20" y1="357.50" x2="444.00" y2="357.50" stroke="#b37630" stroke-width="0.9" />
<line x1="441.20" y1="365.20" x2="444.00" y2="365.20" stroke="#b37630" stroke-width="0.9" />
<text x="445.20" y="369.20" font-size="6.3" text-anchor="middle" font-weight="bold" font-style="normal" fill="#b37630" stroke="#b37630" stroke-width="0.2" >†</text>
<path d="M442.60,359.30 L444.60,361.30 L442.60,363.30 L440.60,361.30Z" fill="#b37630"/>
<line x1="494.50" y1="358.50" x2="494.50" y2="362.30" stroke="#b37630" stroke-width="0.9" />
<line x1="493.10" y1="358.50" x2="495.90" y2="358.50" stroke="#b37630" stroke-width="0.9" />
<line x1="493.10" y1="362.30" x2="495.90" y2="362.30" stroke="#b37630" stroke-width="0.9" />
<line x1="494.50" y1="362.30" x2="494.50" y2="370.40" stroke="#b37630" stroke-width="0.9" />
<line x1="493.10" y1="363.00" x2="495.90" y2="363.00" stroke="#b37630" stroke-width="0.9" />
<line x1="493.10" y1="365.00" x2="495.90" y2="365.00" stroke="#b37630" stroke-width="0.9" />
<line x1="493.10" y1="367.00" x2="495.90" y2="367.00" stroke="#b37630" stroke-width="0.9" />
<line x1="493.10" y1="369.00" x2="495.90" y2="369.00" stroke="#b37630" stroke-width="0.9" />
<path d="M494.50,358.80 L496.50,360.80 L494.50,362.80 L492.50,360.80Z" fill="#b37630"/>
<line x1="516.30" y1="357.00" x2="516.30" y2="364.00" stroke="#b37630" stroke-width="0.9" />
<line x1="514.90" y1="357.00" x2="517.70" y2="357.00" stroke="#b37630" stroke-width="0.9" />
<line x1="514.90" y1="364.00" x2="517.70" y2="364.00" stroke="#b37630" stroke-width="0.9" />
<text x="514.20" y="354.80" font-size="6.3" text-anchor="middle" font-weight="bold" font-style="normal" fill="#b37630" stroke="#b37630" stroke-width="0.2" >†</text>
<path d="M516.30,358.40 L518.30,360.40 L516.30,362.40 L514.30,360.40Z" fill="#b37630"/>
<path d="M299.60,374.00 L301.50,377.40 L297.70,377.40Z" fill="#519743"/>
<line x1="315.70" y1="371.00" x2="315.70" y2="377.00" stroke="#519743" stroke-width="0.9" />
<line x1="314.30" y1="371.00" x2="317.10" y2="371.00" stroke="#519743" stroke-width="0.9" />
<line x1="314.30" y1="377.00" x2="317.10" y2="377.00" stroke="#519743" stroke-width="0.9" />
<path d="M315.70,372.00 L317.60,375.40 L313.80,375.40Z" fill="#519743"/>
<line x1="338.10" y1="363.90" x2="338.10" y2="372.00" stroke="#519743" stroke-width="0.9" />
<line x1="336.70" y1="363.90" x2="339.50" y2="363.90" stroke="#519743" stroke-width="0.9" />
<line x1="336.70" y1="372.00" x2="339.50" y2="372.00" stroke="#519743" stroke-width="0.9" />
<text x="338.10" y="363.80" font-size="6.3" text-anchor="middle" font-weight="bold" font-style="normal" fill="#519743" stroke="#519743" stroke-width="0.2" >*</text>
<path d="M338.10,366.50 L340.00,369.90 L336.20,369.90Z" fill="#519743"/>
<line x1="360.40" y1="353.50" x2="360.40" y2="362.70" stroke="#519743" stroke-width="0.9" />
<line x1="359.00" y1="353.50" x2="361.80" y2="353.50" stroke="#519743" stroke-width="0.9" />
<line x1="359.00" y1="362.70" x2="361.80" y2="362.70" stroke="#519743" stroke-width="0.9" />
<line x1="360.40" y1="348.20" x2="360.40" y2="353.50" stroke="#519743" stroke-width="0.9" />
<line x1="359.00" y1="348.90" x2="361.80" y2="348.90" stroke="#519743" stroke-width="0.9" />
<line x1="359.00" y1="350.90" x2="361.80" y2="350.90" stroke="#519743" stroke-width="0.9" />
<line x1="359.00" y1="352.90" x2="361.80" y2="352.90" stroke="#519743" stroke-width="0.9" />
<path d="M360.40,356.10 L362.30,359.50 L358.50,359.50Z" fill="#519743"/>
<line x1="398.00" y1="347.70" x2="398.00" y2="360.40" stroke="#519743" stroke-width="0.9" />
<line x1="396.60" y1="347.70" x2="399.40" y2="347.70" stroke="#519743" stroke-width="0.9" />
<line x1="396.60" y1="360.40" x2="399.40" y2="360.40" stroke="#519743" stroke-width="0.9" />
<line x1="398.00" y1="341.90" x2="398.00" y2="347.70" stroke="#519743" stroke-width="0.9" />
<line x1="396.60" y1="342.60" x2="399.40" y2="342.60" stroke="#519743" stroke-width="0.9" />
<line x1="396.60" y1="344.60" x2="399.40" y2="344.60" stroke="#519743" stroke-width="0.9" />
<line x1="396.60" y1="346.60" x2="399.40" y2="346.60" stroke="#519743" stroke-width="0.9" />
<path d="M398.00,352.20 L399.90,355.60 L396.10,355.60Z" fill="#519743"/>
<line x1="442.60" y1="346.00" x2="442.60" y2="357.50" stroke="#519743" stroke-width="0.9" />
<line x1="441.20" y1="346.00" x2="444.00" y2="346.00" stroke="#519743" stroke-width="0.9" />
<line x1="441.20" y1="357.50" x2="444.00" y2="357.50" stroke="#519743" stroke-width="0.9" />
<line x1="442.60" y1="338.30" x2="442.60" y2="346.00" stroke="#519743" stroke-width="0.9" />
<line x1="441.20" y1="339.00" x2="444.00" y2="339.00" stroke="#519743" stroke-width="0.9" />
<line x1="441.20" y1="341.00" x2="444.00" y2="341.00" stroke="#519743" stroke-width="0.9" />
<line x1="441.20" y1="343.00" x2="444.00" y2="343.00" stroke="#519743" stroke-width="0.9" />
<line x1="441.20" y1="345.00" x2="444.00" y2="345.00" stroke="#519743" stroke-width="0.9" />
<path d="M442.60,348.40 L444.50,351.80 L440.70,351.80Z" fill="#519743"/>
<line x1="494.50" y1="350.80" x2="494.50" y2="357.50" stroke="#519743" stroke-width="0.9" />
<line x1="493.10" y1="350.80" x2="495.90" y2="350.80" stroke="#519743" stroke-width="0.9" />
<line x1="493.10" y1="357.50" x2="495.90" y2="357.50" stroke="#519743" stroke-width="0.9" />
<line x1="494.50" y1="342.70" x2="494.50" y2="350.80" stroke="#519743" stroke-width="0.9" />
<line x1="493.10" y1="343.40" x2="495.90" y2="343.40" stroke="#519743" stroke-width="0.9" />
<line x1="493.10" y1="345.40" x2="495.90" y2="345.40" stroke="#519743" stroke-width="0.9" />
<line x1="493.10" y1="347.40" x2="495.90" y2="347.40" stroke="#519743" stroke-width="0.9" />
<line x1="493.10" y1="349.40" x2="495.90" y2="349.40" stroke="#519743" stroke-width="0.9" />
<path d="M494.50,352.60 L496.40,356.00 L492.60,356.00Z" fill="#519743"/>
<line x1="516.30" y1="358.00" x2="516.30" y2="368.10" stroke="#519743" stroke-width="0.9" />
<line x1="514.90" y1="358.00" x2="517.70" y2="358.00" stroke="#519743" stroke-width="0.9" />
<line x1="514.90" y1="368.10" x2="517.70" y2="368.10" stroke="#519743" stroke-width="0.9" />
<path d="M516.30,359.30 L518.20,362.70 L514.40,362.70Z" fill="#519743"/>
<line x1="297.00" y1="282.00" x2="518.60" y2="282.00" stroke="#151515" stroke-width="1.6" />
<line x1="517.80" y1="282.00" x2="517.80" y2="383.30" stroke="#151515" stroke-width="1.6" />
<line x1="299.60" y1="281.20" x2="299.60" y2="384.10" stroke="#151515" stroke-width="1.6" />
<line x1="298.80" y1="383.30" x2="518.60" y2="383.30" stroke="#151515" stroke-width="1.6" />
<line x1="296.40" y1="289.00" x2="299.60" y2="289.00" stroke="#151515" stroke-width="1.1" />
<text x="295.70" y="290.90" font-size="6.6" text-anchor="end" font-weight="normal" font-style="normal" fill="#111" stroke="#111" stroke-width="0.3" >600</text>
<line x1="296.40" y1="303.50" x2="299.60" y2="303.50" stroke="#151515" stroke-width="1.1" />
<text x="295.70" y="305.40" font-size="6.6" text-anchor="end" font-weight="normal" font-style="normal" fill="#111" stroke="#111" stroke-width="0.3" >500</text>
<line x1="296.40" y1="318.00" x2="299.60" y2="318.00" stroke="#151515" stroke-width="1.1" />
<text x="295.70" y="319.90" font-size="6.6" text-anchor="end" font-weight="normal" font-style="normal" fill="#111" stroke="#111" stroke-width="0.3" >400</text>
<line x1="296.40" y1="332.50" x2="299.60" y2="332.50" stroke="#151515" stroke-width="1.1" />
<text x="295.70" y="334.40" font-size="6.6" text-anchor="end" font-weight="normal" font-style="normal" fill="#111" stroke="#111" stroke-width="0.3" >300</text>
<line x1="296.40" y1="347.00" x2="299.60" y2="347.00" stroke="#151515" stroke-width="1.1" />
<text x="295.70" y="348.90" font-size="6.6" text-anchor="end" font-weight="normal" font-style="normal" fill="#111" stroke="#111" stroke-width="0.3" >200</text>
<line x1="296.40" y1="361.50" x2="299.60" y2="361.50" stroke="#151515" stroke-width="1.1" />
<text x="295.70" y="363.40" font-size="6.6" text-anchor="end" font-weight="normal" font-style="normal" fill="#111" stroke="#111" stroke-width="0.3" >100</text>
<line x1="296.40" y1="376.00" x2="299.60" y2="376.00" stroke="#151515" stroke-width="1.1" />
<text x="295.70" y="377.90" font-size="6.6" text-anchor="end" font-weight="normal" font-style="normal" fill="#111" stroke="#111" stroke-width="0.3" >0</text>
<line x1="297.80" y1="383.25" x2="299.60" y2="383.25" stroke="#151515" stroke-width="0.9" />
<line x1="297.80" y1="368.75" x2="299.60" y2="368.75" stroke="#151515" stroke-width="0.9" />
<line x1="297.80" y1="354.25" x2="299.60" y2="354.25" stroke="#151515" stroke-width="0.9" />
<line x1="297.80" y1="339.75" x2="299.60" y2="339.75" stroke="#151515" stroke-width="0.9" />
<line x1="297.80" y1="325.25" x2="299.60" y2="325.25" stroke="#151515" stroke-width="0.9" />
<line x1="297.80" y1="310.75" x2="299.60" y2="310.75" stroke="#151515" stroke-width="0.9" />
<line x1="297.80" y1="296.25" x2="299.60" y2="296.25" stroke="#151515" stroke-width="0.9" />
<line x1="297.80" y1="281.75" x2="299.60" y2="281.75" stroke="#151515" stroke-width="0.9" />
<line x1="299.60" y1="383.30" x2="299.60" y2="385.50" stroke="#151515" stroke-width="1.0" />
<text x="301.20" y="394.20" font-size="6.6" text-anchor="middle" font-weight="normal" font-style="normal" fill="#111" stroke="#111" stroke-width="0.3" >BL</text>
<line x1="315.58" y1="383.30" x2="315.58" y2="385.50" stroke="#151515" stroke-width="1.0" />
<text x="315.58" y="394.20" font-size="6.6" text-anchor="middle" font-weight="normal" font-style="normal" fill="#111" stroke="#111" stroke-width="0.3" >15</text>
<line x1="337.95" y1="383.30" x2="337.95" y2="385.50" stroke="#151515" stroke-width="1.0" />
<text x="337.95" y="394.20" font-size="6.6" text-anchor="middle" font-weight="normal" font-style="normal" fill="#111" stroke="#111" stroke-width="0.3" >36</text>
<line x1="360.32" y1="383.30" x2="360.32" y2="385.50" stroke="#151515" stroke-width="1.0" />
<text x="360.32" y="394.20" font-size="6.6" text-anchor="middle" font-weight="normal" font-style="normal" fill="#111" stroke="#111" stroke-width="0.3" >57</text>
<line x1="397.60" y1="383.30" x2="397.60" y2="385.50" stroke="#151515" stroke-width="1.0" />
<text x="397.60" y="394.20" font-size="6.6" text-anchor="middle" font-weight="normal" font-style="normal" fill="#111" stroke="#111" stroke-width="0.3" >92</text>
<line x1="442.34" y1="383.30" x2="442.34" y2="385.50" stroke="#151515" stroke-width="1.0" />
<text x="442.34" y="394.20" font-size="6.6" text-anchor="middle" font-weight="normal" font-style="normal" fill="#111" stroke="#111" stroke-width="0.3" >134</text>
<line x1="487.08" y1="383.30" x2="487.08" y2="385.50" stroke="#151515" stroke-width="1.0" />
<text x="487.08" y="394.20" font-size="6.6" text-anchor="middle" font-weight="normal" font-style="normal" fill="#111" stroke="#111" stroke-width="0.3" >176</text>
<line x1="516.90" y1="383.30" x2="516.90" y2="385.50" stroke="#151515" stroke-width="1.0" />
<text x="514.70" y="394.20" font-size="6.6" text-anchor="middle" font-weight="normal" font-style="normal" fill="#111" stroke="#111" stroke-width="0.3" >204</text>
<path d="M299.60,384.20 L302.30,387.90 L296.90,387.90Z" fill="#86acd6"/>
<path d="M307.06,384.20 L309.76,387.90 L304.36,387.90Z" fill="#86acd6"/>
<path d="M314.51,384.20 L317.21,387.90 L311.81,387.90Z" fill="#86acd6"/>
<path d="M321.97,384.20 L324.67,387.90 L319.27,387.90Z" fill="#86acd6"/>
<path d="M329.43,384.20 L332.13,387.90 L326.73,387.90Z" fill="#86acd6"/>
<path d="M336.88,384.20 L339.58,387.90 L334.18,387.90Z" fill="#86acd6"/>
<path d="M344.34,384.20 L347.04,387.90 L341.64,387.90Z" fill="#86acd6"/>
<path d="M351.79,384.20 L354.49,387.90 L349.09,387.90Z" fill="#86acd6"/>
<path d="M359.25,384.20 L361.95,387.90 L356.55,387.90Z" fill="#86acd6"/>
<path d="M366.71,384.20 L369.41,387.90 L364.01,387.90Z" fill="#86acd6"/>
<path d="M374.16,384.20 L376.86,387.90 L371.46,387.90Z" fill="#86acd6"/>
<path d="M381.62,384.20 L384.32,387.90 L378.92,387.90Z" fill="#86acd6"/>
<path d="M389.08,384.20 L391.78,387.90 L386.38,387.90Z" fill="#86acd6"/>
<path d="M396.53,384.20 L399.23,387.90 L393.83,387.90Z" fill="#86acd6"/>
<path d="M403.99,384.20 L406.69,387.90 L401.29,387.90Z" fill="#86acd6"/>
<path d="M411.45,384.20 L414.15,387.90 L408.75,387.90Z" fill="#86acd6"/>
<path d="M418.90,384.20 L421.60,387.90 L416.20,387.90Z" fill="#86acd6"/>
<path d="M426.36,384.20 L429.06,387.90 L423.66,387.90Z" fill="#86acd6"/>
<path d="M433.82,384.20 L436.52,387.90 L431.12,387.90Z" fill="#86acd6"/>
<path d="M441.27,384.20 L443.97,387.90 L438.57,387.90Z" fill="#86acd6"/>
<path d="M448.73,384.20 L451.43,387.90 L446.03,387.90Z" fill="#86acd6"/>
<path d="M456.18,384.20 L458.88,387.90 L453.48,387.90Z" fill="#86acd6"/>
<path d="M463.64,384.20 L466.34,387.90 L460.94,387.90Z" fill="#86acd6"/>
<path d="M471.10,384.20 L473.80,387.90 L468.40,387.90Z" fill="#86acd6"/>
<path d="M478.55,384.20 L481.25,387.90 L475.85,387.90Z" fill="#86acd6"/>
<path d="M486.01,384.20 L488.71,387.90 L483.31,387.90Z" fill="#86acd6"/>
<text x="403.30" y="402.90" font-size="6.5" text-anchor="middle" font-weight="bold" font-style="normal" fill="#111" stroke="#111" stroke-width="0.3" >Study Day</text>
<text transform="translate(273.60,336.20) rotate(-90)" font-size="6.35" font-weight="bold" text-anchor="middle" fill="#111" stroke="#111" stroke-width="0.35" stroke-linejoin="round">Fasting Glucagon (pg/mL)</text>
<text transform="translate(281.90,334.20) rotate(-90)" font-size="6.35" font-weight="bold" text-anchor="middle" fill="#111" stroke="#111" stroke-width="0.35" stroke-linejoin="round">Δ Baseline, Mean (±SEM)</text>
<text transform="translate(263.30,282.50) scale(0.94,1)" font-size="15.5" font-weight="bold" fill="#111" stroke="#111" stroke-width="0.5">F</text>
<rect x="36.50" y="416.20" width="110.50" height="103.10" fill="#f6f6f6"/>
<line x1="36.50" y1="502.10" x2="254.40" y2="502.10" stroke="#a0a0a0" stroke-width="0.8" />
<text x="39.40" y="515.40" font-size="7.4" text-anchor="start" font-weight="normal" font-style="italic" fill="#111" stroke="#111" stroke-width="0.25" >treatment period</text>
<path d="M36.50,502.10 L55.80,503.20 L82.80,502.30 L100.80,503.20 L118.80,501.60 L154.30,501.60 L181.60,503.20 L253.00,501.60" fill="none" stroke="#151515" stroke-width="1.3" stroke-linejoin="round"/>
<path d="M36.50,502.10 L55.80,489.60 L82.80,482.40 L100.80,480.10 L118.80,472.70 L154.30,473.90 L181.60,483.80 L253.00,495.80" fill="none" stroke="#9e1f2b" stroke-width="1.3" stroke-linejoin="round"/>
<path d="M36.50,502.10 L55.80,482.40 L82.80,467.70 L100.80,457.70 L118.80,445.00 L154.30,435.80 L181.60,448.50 L253.00,486.10" fill="none" stroke="#365c9e" stroke-width="1.3" stroke-linejoin="round"/>
<rect x="34.90" y="500.50" width="3.2" height="3.2" fill="#151515"/>
<rect x="54.20" y="501.60" width="3.2" height="3.2" fill="#151515"/>
<line x1="82.80" y1="500.50" x2="82.80" y2="504.00" stroke="#151515" stroke-width="0.9" />
<line x1="81.40" y1="500.50" x2="84.20" y2="500.50" stroke="#151515" stroke-width="0.9" />
<line x1="81.40" y1="504.00" x2="84.20" y2="504.00" stroke="#151515" stroke-width="0.9" />
<rect x="81.20" y="500.70" width="3.2" height="3.2" fill="#151515"/>
<rect x="99.20" y="501.60" width="3.2" height="3.2" fill="#151515"/>
<line x1="118.80" y1="499.80" x2="118.80" y2="503.40" stroke="#151515" stroke-width="0.9" />
<line x1="117.40" y1="499.80" x2="120.20" y2="499.80" stroke="#151515" stroke-width="0.9" />
<line x1="117.40" y1="503.40" x2="120.20" y2="503.40" stroke="#151515" stroke-width="0.9" />
<rect x="117.20" y="500.00" width="3.2" height="3.2" fill="#151515"/>
<line x1="154.30" y1="500.00" x2="154.30" y2="503.30" stroke="#151515" stroke-width="0.9" />
<line x1="152.90" y1="500.00" x2="155.70" y2="500.00" stroke="#151515" stroke-width="0.9" />
<line x1="152.90" y1="503.30" x2="155.70" y2="503.30" stroke="#151515" stroke-width="0.9" />
<rect x="152.70" y="500.00" width="3.2" height="3.2" fill="#151515"/>
<rect x="180.00" y="501.60" width="3.2" height="3.2" fill="#151515"/>
<line x1="253.00" y1="500.00" x2="253.00" y2="503.30" stroke="#151515" stroke-width="0.9" />
<line x1="251.60" y1="500.00" x2="254.40" y2="500.00" stroke="#151515" stroke-width="0.9" />
<line x1="251.60" y1="503.30" x2="254.40" y2="503.30" stroke="#151515" stroke-width="0.9" />
<rect x="251.40" y="500.00" width="3.2" height="3.2" fill="#151515"/>
<rect x="34.90" y="500.50" width="3.2" height="3.2" fill="#9e1f2b"/>
<line x1="55.80" y1="486.50" x2="55.80" y2="492.50" stroke="#9e1f2b" stroke-width="0.9" />
<line x1="54.40" y1="486.50" x2="57.20" y2="486.50" stroke="#9e1f2b" stroke-width="0.9" />
<line x1="54.40" y1="492.50" x2="57.20" y2="492.50" stroke="#9e1f2b" stroke-width="0.9" />
<line x1="55.80" y1="492.50" x2="55.80" y2="498.60" stroke="#9e1f2b" stroke-width="0.9" />
<line x1="54.40" y1="493.20" x2="57.20" y2="493.20" stroke="#9e1f2b" stroke-width="0.9" />
<line x1="54.40" y1="495.20" x2="57.20" y2="495.20" stroke="#9e1f2b" stroke-width="0.9" />
<line x1="54.40" y1="497.20" x2="57.20" y2="497.20" stroke="#9e1f2b" stroke-width="0.9" />
<rect x="54.20" y="488.00" width="3.2" height="3.2" fill="#9e1f2b"/>
<line x1="82.80" y1="477.80" x2="82.80" y2="486.10" stroke="#9e1f2b" stroke-width="0.9" />
<line x1="81.40" y1="477.80" x2="84.20" y2="477.80" stroke="#9e1f2b" stroke-width="0.9" />
<line x1="81.40" y1="486.10" x2="84.20" y2="486.10" stroke="#9e1f2b" stroke-width="0.9" />
<line x1="82.80" y1="486.10" x2="82.80" y2="492.40" stroke="#9e1f2b" stroke-width="0.9" />
<line x1="81.40" y1="486.80" x2="84.20" y2="486.80" stroke="#9e1f2b" stroke-width="0.9" />
<line x1="81.40" y1="488.80" x2="84.20" y2="488.80" stroke="#9e1f2b" stroke-width="0.9" />
<line x1="81.40" y1="490.80" x2="84.20" y2="490.80" stroke="#9e1f2b" stroke-width="0.9" />
<rect x="81.20" y="480.80" width="3.2" height="3.2" fill="#9e1f2b"/>
<line x1="100.80" y1="475.50" x2="100.80" y2="484.30" stroke="#9e1f2b" stroke-width="0.9" />
<line x1="99.40" y1="475.50" x2="102.20" y2="475.50" stroke="#9e1f2b" stroke-width="0.9" />
<line x1="99.40" y1="484.30" x2="102.20" y2="484.30" stroke="#9e1f2b" stroke-width="0.9" />
<line x1="100.80" y1="484.30" x2="100.80" y2="491.20" stroke="#9e1f2b" stroke-width="0.9" />
<line x1="99.40" y1="485.00" x2="102.20" y2="485.00" stroke="#9e1f2b" stroke-width="0.9" />
<line x1="99.40" y1="487.00" x2="102.20" y2="487.00" stroke="#9e1f2b" stroke-width="0.9" />
<line x1="99.40" y1="489.00" x2="102.20" y2="489.00" stroke="#9e1f2b" stroke-width="0.9" />
<line x1="99.40" y1="491.00" x2="102.20" y2="491.00" stroke="#9e1f2b" stroke-width="0.9" />
<rect x="99.20" y="478.50" width="3.2" height="3.2" fill="#9e1f2b"/>
<line x1="118.80" y1="466.30" x2="118.80" y2="477.80" stroke="#9e1f2b" stroke-width="0.9" />
<line x1="117.40" y1="466.30" x2="120.20" y2="466.30" stroke="#9e1f2b" stroke-width="0.9" />
<line x1="117.40" y1="477.80" x2="120.20" y2="477.80" stroke="#9e1f2b" stroke-width="0.9" />
<line x1="118.80" y1="477.80" x2="118.80" y2="484.30" stroke="#9e1f2b" stroke-width="0.9" />
<line x1="117.40" y1="478.50" x2="120.20" y2="478.50" stroke="#9e1f2b" stroke-width="0.9" />
<line x1="117.40" y1="480.50" x2="120.20" y2="480.50" stroke="#9e1f2b" stroke-width="0.9" />
<line x1="117.40" y1="482.50" x2="120.20" y2="482.50" stroke="#9e1f2b" stroke-width="0.9" />
<rect x="117.20" y="471.10" width="3.2" height="3.2" fill="#9e1f2b"/>
<line x1="154.30" y1="470.40" x2="154.30" y2="476.20" stroke="#9e1f2b" stroke-width="0.9" />
<line x1="152.90" y1="470.40" x2="155.70" y2="470.40" stroke="#9e1f2b" stroke-width="0.9" />
<line x1="152.90" y1="476.20" x2="155.70" y2="476.20" stroke="#9e1f2b" stroke-width="0.9" />
<line x1="154.30" y1="476.20" x2="154.30" y2="483.10" stroke="#9e1f2b" stroke-width="0.9" />
<line x1="152.90" y1="476.90" x2="155.70" y2="476.90" stroke="#9e1f2b" stroke-width="0.9" />
<line x1="152.90" y1="478.90" x2="155.70" y2="478.90" stroke="#9e1f2b" stroke-width="0.9" />
<line x1="152.90" y1="480.90" x2="155.70" y2="480.90" stroke="#9e1f2b" stroke-width="0.9" />
<line x1="152.90" y1="482.90" x2="155.70" y2="482.90" stroke="#9e1f2b" stroke-width="0.9" />
<rect x="152.70" y="472.30" width="3.2" height="3.2" fill="#9e1f2b"/>
<line x1="181.60" y1="480.80" x2="181.60" y2="485.40" stroke="#9e1f2b" stroke-width="0.9" />
<line x1="180.20" y1="480.80" x2="183.00" y2="480.80" stroke="#9e1f2b" stroke-width="0.9" />
<line x1="180.20" y1="485.40" x2="183.00" y2="485.40" stroke="#9e1f2b" stroke-width="0.9" />
<line x1="181.60" y1="485.40" x2="181.60" y2="493.50" stroke="#9e1f2b" stroke-width="0.9" />
<line x1="180.20" y1="486.10" x2="183.00" y2="486.10" stroke="#9e1f2b" stroke-width="0.9" />
<line x1="180.20" y1="488.10" x2="183.00" y2="488.10" stroke="#9e1f2b" stroke-width="0.9" />
<line x1="180.20" y1="490.10" x2="183.00" y2="490.10" stroke="#9e1f2b" stroke-width="0.9" />
<line x1="180.20" y1="492.10" x2="183.00" y2="492.10" stroke="#9e1f2b" stroke-width="0.9" />
<rect x="180.00" y="482.20" width="3.2" height="3.2" fill="#9e1f2b"/>
<line x1="253.00" y1="493.50" x2="253.00" y2="498.00" stroke="#9e1f2b" stroke-width="0.9" />
<line x1="251.60" y1="493.50" x2="254.40" y2="493.50" stroke="#9e1f2b" stroke-width="0.9" />
<line x1="251.60" y1="498.00" x2="254.40" y2="498.00" stroke="#9e1f2b" stroke-width="0.9" />
<rect x="251.40" y="494.20" width="3.2" height="3.2" fill="#9e1f2b"/>
<path d="M36.50,500.10 L38.40,503.50 L34.60,503.50Z" fill="#365c9e"/>
<line x1="55.80" y1="477.40" x2="55.80" y2="485.40" stroke="#365c9e" stroke-width="0.9" />
<line x1="54.40" y1="477.40" x2="57.20" y2="477.40" stroke="#365c9e" stroke-width="0.9" />
<line x1="54.40" y1="485.40" x2="57.20" y2="485.40" stroke="#365c9e" stroke-width="0.9" />
<line x1="55.80" y1="472.70" x2="55.80" y2="477.40" stroke="#365c9e" stroke-width="0.9" />
<line x1="54.40" y1="473.40" x2="57.20" y2="473.40" stroke="#365c9e" stroke-width="0.9" />
<line x1="54.40" y1="475.40" x2="57.20" y2="475.40" stroke="#365c9e" stroke-width="0.9" />
<line x1="54.40" y1="477.40" x2="57.20" y2="477.40" stroke="#365c9e" stroke-width="0.9" />
<path d="M55.80,480.40 L57.70,483.80 L53.90,483.80Z" fill="#365c9e"/>
<line x1="82.80" y1="461.20" x2="82.80" y2="474.60" stroke="#365c9e" stroke-width="0.9" />
<line x1="81.40" y1="461.20" x2="84.20" y2="461.20" stroke="#365c9e" stroke-width="0.9" />
<line x1="81.40" y1="474.60" x2="84.20" y2="474.60" stroke="#365c9e" stroke-width="0.9" />
<line x1="82.80" y1="455.40" x2="82.80" y2="461.20" stroke="#365c9e" stroke-width="0.9" />
<line x1="81.40" y1="456.10" x2="84.20" y2="456.10" stroke="#365c9e" stroke-width="0.9" />
<line x1="81.40" y1="458.10" x2="84.20" y2="458.10" stroke="#365c9e" stroke-width="0.9" />
<line x1="81.40" y1="460.10" x2="84.20" y2="460.10" stroke="#365c9e" stroke-width="0.9" />
<path d="M82.80,465.70 L84.70,469.10 L80.90,469.10Z" fill="#365c9e"/>
<line x1="100.80" y1="452.00" x2="100.80" y2="464.70" stroke="#365c9e" stroke-width="0.9" />
<line x1="99.40" y1="452.00" x2="102.20" y2="452.00" stroke="#365c9e" stroke-width="0.9" />
<line x1="99.40" y1="464.70" x2="102.20" y2="464.70" stroke="#365c9e" stroke-width="0.9" />
<line x1="100.80" y1="445.00" x2="100.80" y2="452.00" stroke="#365c9e" stroke-width="0.9" />
<line x1="99.40" y1="445.70" x2="102.20" y2="445.70" stroke="#365c9e" stroke-width="0.9" />
<line x1="99.40" y1="447.70" x2="102.20" y2="447.70" stroke="#365c9e" stroke-width="0.9" />
<line x1="99.40" y1="449.70" x2="102.20" y2="449.70" stroke="#365c9e" stroke-width="0.9" />
<line x1="99.40" y1="451.70" x2="102.20" y2="451.70" stroke="#365c9e" stroke-width="0.9" />
<path d="M100.80,455.70 L102.70,459.10 L98.90,459.10Z" fill="#365c9e"/>
<line x1="118.80" y1="438.10" x2="118.80" y2="452.40" stroke="#365c9e" stroke-width="0.9" />
<line x1="117.40" y1="438.10" x2="120.20" y2="438.10" stroke="#365c9e" stroke-width="0.9" />
<line x1="117.40" y1="452.40" x2="120.20" y2="452.40" stroke="#365c9e" stroke-width="0.9" />
<line x1="118.80" y1="431.60" x2="118.80" y2="438.10" stroke="#365c9e" stroke-width="0.9" />
<line x1="117.40" y1="432.30" x2="120.20" y2="432.30" stroke="#365c9e" stroke-width="0.9" />
<line x1="117.40" y1="434.30" x2="120.20" y2="434.30" stroke="#365c9e" stroke-width="0.9" />
<line x1="117.40" y1="436.30" x2="120.20" y2="436.30" stroke="#365c9e" stroke-width="0.9" />
<path d="M118.80,443.00 L120.70,446.40 L116.90,446.40Z" fill="#365c9e"/>
<line x1="154.30" y1="427.70" x2="154.30" y2="443.90" stroke="#365c9e" stroke-width="0.9" />
<line x1="152.90" y1="427.70" x2="155.70" y2="427.70" stroke="#365c9e" stroke-width="0.9" />
<line x1="152.90" y1="443.90" x2="155.70" y2="443.90" stroke="#365c9e" stroke-width="0.9" />
<line x1="154.30" y1="420.80" x2="154.30" y2="427.70" stroke="#365c9e" stroke-width="0.9" />
<line x1="152.90" y1="421.50" x2="155.70" y2="421.50" stroke="#365c9e" stroke-width="0.9" />
<line x1="152.90" y1="423.50" x2="155.70" y2="423.50" stroke="#365c9e" stroke-width="0.9" />
<line x1="152.90" y1="425.50" x2="155.70" y2="425.50" stroke="#365c9e" stroke-width="0.9" />
<line x1="152.90" y1="427.50" x2="155.70" y2="427.50" stroke="#365c9e" stroke-width="0.9" />
<path d="M154.30,433.80 L156.20,437.20 L152.40,437.20Z" fill="#365c9e"/>
<line x1="181.60" y1="441.60" x2="181.60" y2="455.40" stroke="#365c9e" stroke-width="0.9" />
<line x1="180.20" y1="441.60" x2="183.00" y2="441.60" stroke="#365c9e" stroke-width="0.9" />
<line x1="180.20" y1="455.40" x2="183.00" y2="455.40" stroke="#365c9e" stroke-width="0.9" />
<line x1="181.60" y1="435.30" x2="181.60" y2="441.60" stroke="#365c9e" stroke-width="0.9" />
<line x1="180.20" y1="436.00" x2="183.00" y2="436.00" stroke="#365c9e" stroke-width="0.9" />
<line x1="180.20" y1="438.00" x2="183.00" y2="438.00" stroke="#365c9e" stroke-width="0.9" />
<line x1="180.20" y1="440.00" x2="183.00" y2="440.00" stroke="#365c9e" stroke-width="0.9" />
<path d="M181.60,446.50 L183.50,449.90 L179.70,449.90Z" fill="#365c9e"/>
<line x1="253.00" y1="484.30" x2="253.00" y2="488.40" stroke="#365c9e" stroke-width="0.9" />
<line x1="251.60" y1="484.30" x2="254.40" y2="484.30" stroke="#365c9e" stroke-width="0.9" />
<line x1="251.60" y1="488.40" x2="254.40" y2="488.40" stroke="#365c9e" stroke-width="0.9" />
<line x1="253.00" y1="477.80" x2="253.00" y2="484.30" stroke="#365c9e" stroke-width="0.9" />
<line x1="251.60" y1="478.50" x2="254.40" y2="478.50" stroke="#365c9e" stroke-width="0.9" />
<line x1="251.60" y1="480.50" x2="254.40" y2="480.50" stroke="#365c9e" stroke-width="0.9" />
<line x1="251.60" y1="482.50" x2="254.40" y2="482.50" stroke="#365c9e" stroke-width="0.9" />
<path d="M253.00,484.10 L254.90,487.50 L251.10,487.50Z" fill="#365c9e"/>
<line x1="33.90" y1="416.20" x2="255.20" y2="416.20" stroke="#151515" stroke-width="1.6" />
<line x1="254.40" y1="416.20" x2="254.40" y2="519.30" stroke="#151515" stroke-width="1.6" />
<line x1="36.50" y1="415.40" x2="36.50" y2="520.10" stroke="#151515" stroke-width="1.6" />
<line x1="35.70" y1="519.30" x2="255.20" y2="519.30" stroke="#151515" stroke-width="1.6" />
<line x1="33.30" y1="416.18" x2="36.50" y2="416.18" stroke="#151515" stroke-width="1.1" />
<text x="32.60" y="418.07" font-size="6.6" text-anchor="end" font-weight="normal" font-style="normal" fill="#111" stroke="#111" stroke-width="0.3" >25</text>
<line x1="33.30" y1="433.36" x2="36.50" y2="433.36" stroke="#151515" stroke-width="1.1" />
<text x="32.60" y="435.26" font-size="6.6" text-anchor="end" font-weight="normal" font-style="normal" fill="#111" stroke="#111" stroke-width="0.3" >20</text>
<line x1="33.30" y1="450.55" x2="36.50" y2="450.55" stroke="#151515" stroke-width="1.1" />
<text x="32.60" y="452.44" font-size="6.6" text-anchor="end" font-weight="normal" font-style="normal" fill="#111" stroke="#111" stroke-width="0.3" >15</text>
<line x1="33.30" y1="467.73" x2="36.50" y2="467.73" stroke="#151515" stroke-width="1.1" />
<text x="32.60" y="469.63" font-size="6.6" text-anchor="end" font-weight="normal" font-style="normal" fill="#111" stroke="#111" stroke-width="0.3" >10</text>
<line x1="33.30" y1="484.92" x2="36.50" y2="484.92" stroke="#151515" stroke-width="1.1" />
<text x="32.60" y="486.81" font-size="6.6" text-anchor="end" font-weight="normal" font-style="normal" fill="#111" stroke="#111" stroke-width="0.3" >5</text>
<line x1="33.30" y1="502.10" x2="36.50" y2="502.10" stroke="#151515" stroke-width="1.1" />
<text x="32.60" y="504.00" font-size="6.6" text-anchor="end" font-weight="normal" font-style="normal" fill="#111" stroke="#111" stroke-width="0.3" >0</text>
<line x1="33.30" y1="519.28" x2="36.50" y2="519.28" stroke="#151515" stroke-width="1.1" />
<text x="32.60" y="521.18" font-size="6.6" text-anchor="end" font-weight="normal" font-style="normal" fill="#111" stroke="#111" stroke-width="0.3" >-5</text>
<line x1="36.50" y1="519.30" x2="36.50" y2="521.50" stroke="#151515" stroke-width="1.0" />
<text x="38.50" y="530.20" font-size="6.6" text-anchor="middle" font-weight="normal" font-style="normal" fill="#111" stroke="#111" stroke-width="0.3" >BL</text>
<line x1="55.72" y1="519.30" x2="55.72" y2="521.50" stroke="#151515" stroke-width="1.0" />
<text x="55.72" y="530.20" font-size="6.6" text-anchor="middle" font-weight="normal" font-style="normal" fill="#111" stroke="#111" stroke-width="0.3" >15</text>
<line x1="82.62" y1="519.30" x2="82.62" y2="521.50" stroke="#151515" stroke-width="1.0" />
<text x="82.62" y="530.20" font-size="6.6" text-anchor="middle" font-weight="normal" font-style="normal" fill="#111" stroke="#111" stroke-width="0.3" >36</text>
<line x1="100.55" y1="519.30" x2="100.55" y2="521.50" stroke="#151515" stroke-width="1.0" />
<text x="100.55" y="530.20" font-size="6.6" text-anchor="middle" font-weight="normal" font-style="normal" fill="#111" stroke="#111" stroke-width="0.3" >50</text>
<line x1="118.48" y1="519.30" x2="118.48" y2="521.50" stroke="#151515" stroke-width="1.0" />
<text x="118.48" y="530.20" font-size="6.6" text-anchor="middle" font-weight="normal" font-style="normal" fill="#111" stroke="#111" stroke-width="0.3" >64</text>
<line x1="154.35" y1="519.30" x2="154.35" y2="521.50" stroke="#151515" stroke-width="1.0" />
<text x="154.35" y="530.20" font-size="6.6" text-anchor="middle" font-weight="normal" font-style="normal" fill="#111" stroke="#111" stroke-width="0.3" >92</text>
<line x1="181.25" y1="519.30" x2="181.25" y2="521.50" stroke="#151515" stroke-width="1.0" />
<text x="181.25" y="530.20" font-size="6.6" text-anchor="middle" font-weight="normal" font-style="normal" fill="#111" stroke="#111" stroke-width="0.3" >113</text>
<line x1="253.00" y1="519.30" x2="253.00" y2="521.50" stroke="#151515" stroke-width="1.0" />
<text x="253.00" y="530.20" font-size="6.6" text-anchor="middle" font-weight="normal" font-style="normal" fill="#111" stroke="#111" stroke-width="0.3" >169</text>
<path d="M36.88,520.20 L39.58,523.90 L34.18,523.90Z" fill="#86acd6"/>
<path d="M39.19,520.20 L41.89,523.90 L36.49,523.90Z" fill="#86acd6"/>
<path d="M41.50,520.20 L44.20,523.90 L38.80,523.90Z" fill="#86acd6"/>
<path d="M43.93,520.20 L46.63,523.90 L41.23,523.90Z" fill="#86acd6"/>
<path d="M46.75,520.20 L49.45,523.90 L44.05,523.90Z" fill="#86acd6"/>
<path d="M55.72,520.20 L58.42,523.90 L53.02,523.90Z" fill="#86acd6"/>
<path d="M64.68,520.20 L67.38,523.90 L61.98,523.90Z" fill="#86acd6"/>
<path d="M73.65,520.20 L76.35,523.90 L70.95,523.90Z" fill="#86acd6"/>
<path d="M82.62,520.20 L85.32,523.90 L79.92,523.90Z" fill="#86acd6"/>
<path d="M91.58,520.20 L94.28,523.90 L88.88,523.90Z" fill="#86acd6"/>
<path d="M100.55,520.20 L103.25,523.90 L97.85,523.90Z" fill="#86acd6"/>
<path d="M109.52,520.20 L112.22,523.90 L106.82,523.90Z" fill="#86acd6"/>
<path d="M118.48,520.20 L121.18,523.90 L115.78,523.90Z" fill="#86acd6"/>
<path d="M127.45,520.20 L130.15,523.90 L124.75,523.90Z" fill="#86acd6"/>
<path d="M136.42,520.20 L139.12,523.90 L133.72,523.90Z" fill="#86acd6"/>
<path d="M145.38,520.20 L148.08,523.90 L142.69,523.90Z" fill="#86acd6"/>
<text x="139.25" y="538.10" font-size="6.5" text-anchor="middle" font-weight="bold" font-style="normal" fill="#111" stroke="#111" stroke-width="0.3" >Study Day</text>
<text transform="translate(10.00,464.70) rotate(-90)" font-size="6.35" font-weight="bold" text-anchor="middle" fill="#111" stroke="#111" stroke-width="0.35" stroke-linejoin="round">Total GLP-1 (pmol/L)</text>
<text transform="translate(18.60,467.70) rotate(-90)" font-size="6.35" font-weight="bold" text-anchor="middle" fill="#111" stroke="#111" stroke-width="0.35" stroke-linejoin="round">Δ Baseline, Mean (±SEM)</text>
<text transform="translate(0.50,418.10) scale(0.94,1)" font-size="15.5" font-weight="bold" fill="#111" stroke="#111" stroke-width="0.5">G</text>
<rect x="299.40" y="418.40" width="188.80" height="99.80" fill="#f6f6f6"/>
<line x1="299.40" y1="501.60" x2="517.40" y2="501.60" stroke="#a0a0a0" stroke-width="0.8" />
<text x="301.40" y="514.30" font-size="7.4" text-anchor="start" font-weight="normal" font-style="italic" fill="#111" stroke="#111" stroke-width="0.25" >treatment period</text>
<path d="M299.40,501.60 L315.40,501.50 L338.10,503.20 L359.80,502.10 L397.20,503.20 L442.00,499.30 L494.00,506.50 L516.30,504.20" fill="none" stroke="#151515" stroke-width="1.3" stroke-linejoin="round"/>
<path d="M299.40,501.60 L315.40,500.40 L338.10,496.60 L359.80,501.50 L397.20,501.70 L442.00,498.90 L494.00,503.50 L516.30,502.30" fill="none" stroke="#b37630" stroke-width="1.3" stroke-linejoin="round"/>
<path d="M299.40,501.60 L315.40,499.50 L338.10,500.40 L359.80,496.60 L397.20,501.50 L442.00,496.60 L494.00,500.00 L516.30,500.70" fill="none" stroke="#519743" stroke-width="1.3" stroke-linejoin="round"/>
<rect x="297.80" y="500.00" width="3.2" height="3.2" fill="#151515"/>
<rect x="313.80" y="499.90" width="3.2" height="3.2" fill="#151515"/>
<rect x="336.50" y="501.60" width="3.2" height="3.2" fill="#151515"/>
<rect x="358.20" y="500.50" width="3.2" height="3.2" fill="#151515"/>
<rect x="395.60" y="501.60" width="3.2" height="3.2" fill="#151515"/>
<rect x="440.40" y="497.70" width="3.2" height="3.2" fill="#151515"/>
<line x1="494.00" y1="505.00" x2="494.00" y2="508.00" stroke="#151515" stroke-width="0.9" />
<line x1="492.60" y1="505.00" x2="495.40" y2="505.00" stroke="#151515" stroke-width="0.9" />
<line x1="492.60" y1="508.00" x2="495.40" y2="508.00" stroke="#151515" stroke-width="0.9" />
<rect x="492.40" y="504.90" width="3.2" height="3.2" fill="#151515"/>
<rect x="514.70" y="502.60" width="3.2" height="3.2" fill="#151515"/>
<path d="M299.40,499.60 L301.40,501.60 L299.40,503.60 L297.40,501.60Z" fill="#b37630"/>
<path d="M315.40,498.40 L317.40,500.40 L315.40,502.40 L313.40,500.40Z" fill="#b37630"/>
<line x1="338.10" y1="493.30" x2="338.10" y2="499.90" stroke="#b37630" stroke-width="0.9" />
<line x1="336.70" y1="493.30" x2="339.50" y2="493.30" stroke="#b37630" stroke-width="0.9" />
<line x1="336.70" y1="499.90" x2="339.50" y2="499.90" stroke="#b37630" stroke-width="0.9" />
<text x="338.10" y="491.50" font-size="6.3" text-anchor="middle" font-weight="bold" font-style="normal" fill="#b37630" stroke="#b37630" stroke-width="0.2" >*</text>
<path d="M338.10,494.60 L340.10,496.60 L338.10,498.60 L336.10,496.60Z" fill="#b37630"/>
<line x1="359.80" y1="499.50" x2="359.80" y2="503.50" stroke="#b37630" stroke-width="0.9" />
<line x1="358.40" y1="499.50" x2="361.20" y2="499.50" stroke="#b37630" stroke-width="0.9" />
<line x1="358.40" y1="503.50" x2="361.20" y2="503.50" stroke="#b37630" stroke-width="0.9" />
<path d="M359.80,499.50 L361.80,501.50 L359.80,503.50 L357.80,501.50Z" fill="#b37630"/>
<path d="M397.20,499.70 L399.20,501.70 L397.20,503.70 L395.20,501.70Z" fill="#b37630"/>
<line x1="442.00" y1="497.00" x2="442.00" y2="501.00" stroke="#b37630" stroke-width="0.9" />
<line x1="440.60" y1="497.00" x2="443.40" y2="497.00" stroke="#b37630" stroke-width="0.9" />
<line x1="440.60" y1="501.00" x2="443.40" y2="501.00" stroke="#b37630" stroke-width="0.9" />
<path d="M442.00,496.90 L444.00,498.90 L442.00,500.90 L440.00,498.90Z" fill="#b37630"/>
<path d="M494.00,501.50 L496.00,503.50 L494.00,505.50 L492.00,503.50Z" fill="#b37630"/>
<path d="M516.30,500.30 L518.30,502.30 L516.30,504.30 L514.30,502.30Z" fill="#b37630"/>
<path d="M299.40,499.60 L301.30,503.00 L297.50,503.00Z" fill="#519743"/>
<line x1="315.40" y1="498.00" x2="315.40" y2="501.00" stroke="#519743" stroke-width="0.9" />
<line x1="314.00" y1="498.00" x2="316.80" y2="498.00" stroke="#519743" stroke-width="0.9" />
<line x1="314.00" y1="501.00" x2="316.80" y2="501.00" stroke="#519743" stroke-width="0.9" />
<path d="M315.40,497.50 L317.30,500.90 L313.50,500.90Z" fill="#519743"/>
<path d="M338.10,498.40 L340.00,501.80 L336.20,501.80Z" fill="#519743"/>
<line x1="359.80" y1="493.70" x2="359.80" y2="499.50" stroke="#519743" stroke-width="0.9" />
<line x1="358.40" y1="493.70" x2="361.20" y2="493.70" stroke="#519743" stroke-width="0.9" />
<line x1="358.40" y1="499.50" x2="361.20" y2="499.50" stroke="#519743" stroke-width="0.9" />
<path d="M359.80,494.60 L361.70,498.00 L357.90,498.00Z" fill="#519743"/>
<line x1="397.20" y1="500.00" x2="397.20" y2="503.00" stroke="#519743" stroke-width="0.9" />
<line x1="395.80" y1="500.00" x2="398.60" y2="500.00" stroke="#519743" stroke-width="0.9" />
<line x1="395.80" y1="503.00" x2="398.60" y2="503.00" stroke="#519743" stroke-width="0.9" />
<path d="M397.20,499.50 L399.10,502.90 L395.30,502.90Z" fill="#519743"/>
<line x1="442.00" y1="495.00" x2="442.00" y2="498.50" stroke="#519743" stroke-width="0.9" />
<line x1="440.60" y1="495.00" x2="443.40" y2="495.00" stroke="#519743" stroke-width="0.9" />
<line x1="440.60" y1="498.50" x2="443.40" y2="498.50" stroke="#519743" stroke-width="0.9" />
<path d="M442.00,494.60 L443.90,498.00 L440.10,498.00Z" fill="#519743"/>
<line x1="494.00" y1="497.00" x2="494.00" y2="503.00" stroke="#519743" stroke-width="0.9" />
<line x1="492.60" y1="497.00" x2="495.40" y2="497.00" stroke="#519743" stroke-width="0.9" />
<line x1="492.60" y1="503.00" x2="495.40" y2="503.00" stroke="#519743" stroke-width="0.9" />
<line x1="494.00" y1="492.60" x2="494.00" y2="497.00" stroke="#519743" stroke-width="0.9" />
<line x1="492.60" y1="493.30" x2="495.40" y2="493.30" stroke="#519743" stroke-width="0.9" />
<line x1="492.60" y1="495.30" x2="495.40" y2="495.30" stroke="#519743" stroke-width="0.9" />
<path d="M494.00,498.00 L495.90,501.40 L492.10,501.40Z" fill="#519743"/>
<line x1="516.30" y1="498.50" x2="516.30" y2="503.00" stroke="#519743" stroke-width="0.9" />
<line x1="514.90" y1="498.50" x2="517.70" y2="498.50" stroke="#519743" stroke-width="0.9" />
<line x1="514.90" y1="503.00" x2="517.70" y2="503.00" stroke="#519743" stroke-width="0.9" />
<path d="M516.30,498.70 L518.20,502.10 L514.40,502.10Z" fill="#519743"/>
<line x1="296.80" y1="418.40" x2="518.20" y2="418.40" stroke="#151515" stroke-width="1.6" />
<line x1="517.40" y1="418.40" x2="517.40" y2="518.20" stroke="#151515" stroke-width="1.6" />
<line x1="299.40" y1="417.60" x2="299.40" y2="519.00" stroke="#151515" stroke-width="1.6" />
<line x1="298.60" y1="518.20" x2="518.20" y2="518.20" stroke="#151515" stroke-width="1.6" />
<line x1="296.20" y1="418.43" x2="299.40" y2="418.43" stroke="#151515" stroke-width="1.1" />
<text x="295.50" y="420.32" font-size="6.6" text-anchor="end" font-weight="normal" font-style="normal" fill="#111" stroke="#111" stroke-width="0.3" >25</text>
<line x1="296.20" y1="435.06" x2="299.40" y2="435.06" stroke="#151515" stroke-width="1.1" />
<text x="295.50" y="436.96" font-size="6.6" text-anchor="end" font-weight="normal" font-style="normal" fill="#111" stroke="#111" stroke-width="0.3" >20</text>
<line x1="296.20" y1="451.70" x2="299.40" y2="451.70" stroke="#151515" stroke-width="1.1" />
<text x="295.50" y="453.60" font-size="6.6" text-anchor="end" font-weight="normal" font-style="normal" fill="#111" stroke="#111" stroke-width="0.3" >15</text>
<line x1="296.20" y1="468.33" x2="299.40" y2="468.33" stroke="#151515" stroke-width="1.1" />
<text x="295.50" y="470.23" font-size="6.6" text-anchor="end" font-weight="normal" font-style="normal" fill="#111" stroke="#111" stroke-width="0.3" >10</text>
<line x1="296.20" y1="484.97" x2="299.40" y2="484.97" stroke="#151515" stroke-width="1.1" />
<text x="295.50" y="486.87" font-size="6.6" text-anchor="end" font-weight="normal" font-style="normal" fill="#111" stroke="#111" stroke-width="0.3" >5</text>
<line x1="296.20" y1="501.60" x2="299.40" y2="501.60" stroke="#151515" stroke-width="1.1" />
<text x="295.50" y="503.50" font-size="6.6" text-anchor="end" font-weight="normal" font-style="normal" fill="#111" stroke="#111" stroke-width="0.3" >0</text>
<line x1="296.20" y1="518.24" x2="299.40" y2="518.24" stroke="#151515" stroke-width="1.1" />
<text x="295.50" y="520.13" font-size="6.6" text-anchor="end" font-weight="normal" font-style="normal" fill="#111" stroke="#111" stroke-width="0.3" >-5</text>
<line x1="299.40" y1="518.20" x2="299.40" y2="520.40" stroke="#151515" stroke-width="1.0" />
<text x="301.50" y="529.10" font-size="6.6" text-anchor="middle" font-weight="normal" font-style="normal" fill="#111" stroke="#111" stroke-width="0.3" >BL</text>
<line x1="315.35" y1="518.20" x2="315.35" y2="520.40" stroke="#151515" stroke-width="1.0" />
<text x="317.50" y="529.10" font-size="6.6" text-anchor="middle" font-weight="normal" font-style="normal" fill="#111" stroke="#111" stroke-width="0.3" >15</text>
<line x1="337.68" y1="518.20" x2="337.68" y2="520.40" stroke="#151515" stroke-width="1.0" />
<text x="338.60" y="529.10" font-size="6.6" text-anchor="middle" font-weight="normal" font-style="normal" fill="#111" stroke="#111" stroke-width="0.3" >36</text>
<line x1="360.00" y1="518.20" x2="360.00" y2="520.40" stroke="#151515" stroke-width="1.0" />
<text x="359.90" y="529.10" font-size="6.6" text-anchor="middle" font-weight="normal" font-style="normal" fill="#111" stroke="#111" stroke-width="0.3" >57</text>
<line x1="397.21" y1="518.20" x2="397.21" y2="520.40" stroke="#151515" stroke-width="1.0" />
<text x="390.90" y="529.10" font-size="6.6" text-anchor="middle" font-weight="normal" font-style="normal" fill="#111" stroke="#111" stroke-width="0.3" >92</text>
<line x1="441.87" y1="518.20" x2="441.87" y2="520.40" stroke="#151515" stroke-width="1.0" />
<text x="443.90" y="529.10" font-size="6.6" text-anchor="middle" font-weight="normal" font-style="normal" fill="#111" stroke="#111" stroke-width="0.3" >134</text>
<line x1="486.52" y1="518.20" x2="486.52" y2="520.40" stroke="#151515" stroke-width="1.0" />
<text x="488.20" y="529.10" font-size="6.6" text-anchor="middle" font-weight="normal" font-style="normal" fill="#111" stroke="#111" stroke-width="0.3" >176</text>
<line x1="516.30" y1="518.20" x2="516.30" y2="520.40" stroke="#151515" stroke-width="1.0" />
<text x="514.70" y="529.10" font-size="6.6" text-anchor="middle" font-weight="normal" font-style="normal" fill="#111" stroke="#111" stroke-width="0.3" >204</text>
<path d="M299.40,519.10 L302.10,522.80 L296.70,522.80Z" fill="#86acd6"/>
<path d="M306.84,519.10 L309.54,522.80 L304.14,522.80Z" fill="#86acd6"/>
<path d="M314.28,519.10 L316.98,522.80 L311.58,522.80Z" fill="#86acd6"/>
<path d="M321.73,519.10 L324.43,522.80 L319.03,522.80Z" fill="#86acd6"/>
<path d="M329.17,519.10 L331.87,522.80 L326.47,522.80Z" fill="#86acd6"/>
<path d="M336.61,519.10 L339.31,522.80 L333.91,522.80Z" fill="#86acd6"/>
<path d="M344.05,519.10 L346.75,522.80 L341.35,522.80Z" fill="#86acd6"/>
<path d="M351.50,519.10 L354.20,522.80 L348.80,522.80Z" fill="#86acd6"/>
<path d="M358.94,519.10 L361.64,522.80 L356.24,522.80Z" fill="#86acd6"/>
<path d="M366.38,519.10 L369.08,522.80 L363.68,522.80Z" fill="#86acd6"/>
<path d="M373.82,519.10 L376.52,522.80 L371.12,522.80Z" fill="#86acd6"/>
<path d="M381.27,519.10 L383.97,522.80 L378.57,522.80Z" fill="#86acd6"/>
<path d="M388.71,519.10 L391.41,522.80 L386.01,522.80Z" fill="#86acd6"/>
<path d="M396.15,519.10 L398.85,522.80 L393.45,522.80Z" fill="#86acd6"/>
<path d="M403.59,519.10 L406.29,522.80 L400.89,522.80Z" fill="#86acd6"/>
<path d="M411.04,519.10 L413.74,522.80 L408.34,522.80Z" fill="#86acd6"/>
<path d="M418.48,519.10 L421.18,522.80 L415.78,522.80Z" fill="#86acd6"/>
<path d="M425.92,519.10 L428.62,522.80 L423.22,522.80Z" fill="#86acd6"/>
<path d="M433.36,519.10 L436.06,522.80 L430.66,522.80Z" fill="#86acd6"/>
<path d="M440.81,519.10 L443.51,522.80 L438.11,522.80Z" fill="#86acd6"/>
<path d="M448.25,519.10 L450.95,522.80 L445.55,522.80Z" fill="#86acd6"/>
<path d="M455.69,519.10 L458.39,522.80 L452.99,522.80Z" fill="#86acd6"/>
<path d="M463.13,519.10 L465.83,522.80 L460.43,522.80Z" fill="#86acd6"/>
<path d="M470.58,519.10 L473.28,522.80 L467.88,522.80Z" fill="#86acd6"/>
<path d="M478.02,519.10 L480.72,522.80 L475.32,522.80Z" fill="#86acd6"/>
<path d="M485.46,519.10 L488.16,522.80 L482.76,522.80Z" fill="#86acd6"/>
<text x="402.90" y="538.70" font-size="6.5" text-anchor="middle" font-weight="bold" font-style="normal" fill="#111" stroke="#111" stroke-width="0.3" >Study Day</text>
<text transform="translate(273.40,464.10) rotate(-90)" font-size="6.35" font-weight="bold" text-anchor="middle" fill="#111" stroke="#111" stroke-width="0.35" stroke-linejoin="round">Total GLP-1 (pmol/L)</text>
<text transform="translate(282.10,467.10) rotate(-90)" font-size="6.35" font-weight="bold" text-anchor="middle" fill="#111" stroke="#111" stroke-width="0.35" stroke-linejoin="round">Δ Baseline, Mean (±SEM)</text>
<text transform="translate(263.30,418.00) scale(0.94,1)" font-size="15.5" font-weight="bold" fill="#111" stroke="#111" stroke-width="0.5">H</text>
<line x1="83.75" y1="6.60" x2="96.25" y2="6.60" stroke="#151515" stroke-width="1.3" />
<circle cx="90.00" cy="6.60" r="1.7" fill="#151515"/>
<text x="98.00" y="9.00" font-size="6.4" text-anchor="start" font-weight="normal" font-style="normal" fill="#111" stroke="#111" stroke-width="0.3" >Placebo</text>
<line x1="135.50" y1="6.60" x2="147.50" y2="6.60" stroke="#9e1f2b" stroke-width="1.3" />
<rect x="139.90" y="5.00" width="3.2" height="3.2" fill="#9e1f2b"/>
<text x="149.50" y="9.00" font-size="6.4" text-anchor="start" font-weight="normal" font-style="normal" fill="#111" stroke="#111" stroke-width="0.3" >100 mg</text>
<line x1="187.30" y1="6.60" x2="199.80" y2="6.60" stroke="#365c9e" stroke-width="1.3" />
<path d="M193.55,4.60 L195.45,8.00 L191.65,8.00Z" fill="#365c9e"/>
<text x="202.00" y="9.00" font-size="6.4" text-anchor="start" font-weight="normal" font-style="normal" fill="#111" stroke="#111" stroke-width="0.3" >200 mg</text>
<line x1="350.00" y1="6.60" x2="362.00" y2="6.60" stroke="#151515" stroke-width="1.3" />
<circle cx="356.00" cy="6.60" r="1.7" fill="#151515"/>
<text x="363.50" y="9.00" font-size="6.4" text-anchor="start" font-weight="normal" font-style="normal" fill="#111" stroke="#111" stroke-width="0.3" >Placebo</text>
<line x1="401.25" y1="6.60" x2="414.25" y2="6.60" stroke="#b37630" stroke-width="1.3" />
<path d="M407.75,4.60 L409.75,6.60 L407.75,8.60 L405.75,6.60Z" fill="#b37630"/>
<text x="415.00" y="9.00" font-size="6.4" text-anchor="start" font-weight="normal" font-style="normal" fill="#111" stroke="#111" stroke-width="0.3" >50 mg</text>
<line x1="447.00" y1="6.60" x2="458.75" y2="6.60" stroke="#519743" stroke-width="1.3" />
<path d="M452.88,4.60 L454.77,8.00 L450.98,8.00Z" fill="#519743"/>
<text x="459.50" y="9.00" font-size="6.4" text-anchor="start" font-weight="normal" font-style="normal" fill="#111" stroke="#111" stroke-width="0.3" >75 mg</text>
</svg>
</body></html>
